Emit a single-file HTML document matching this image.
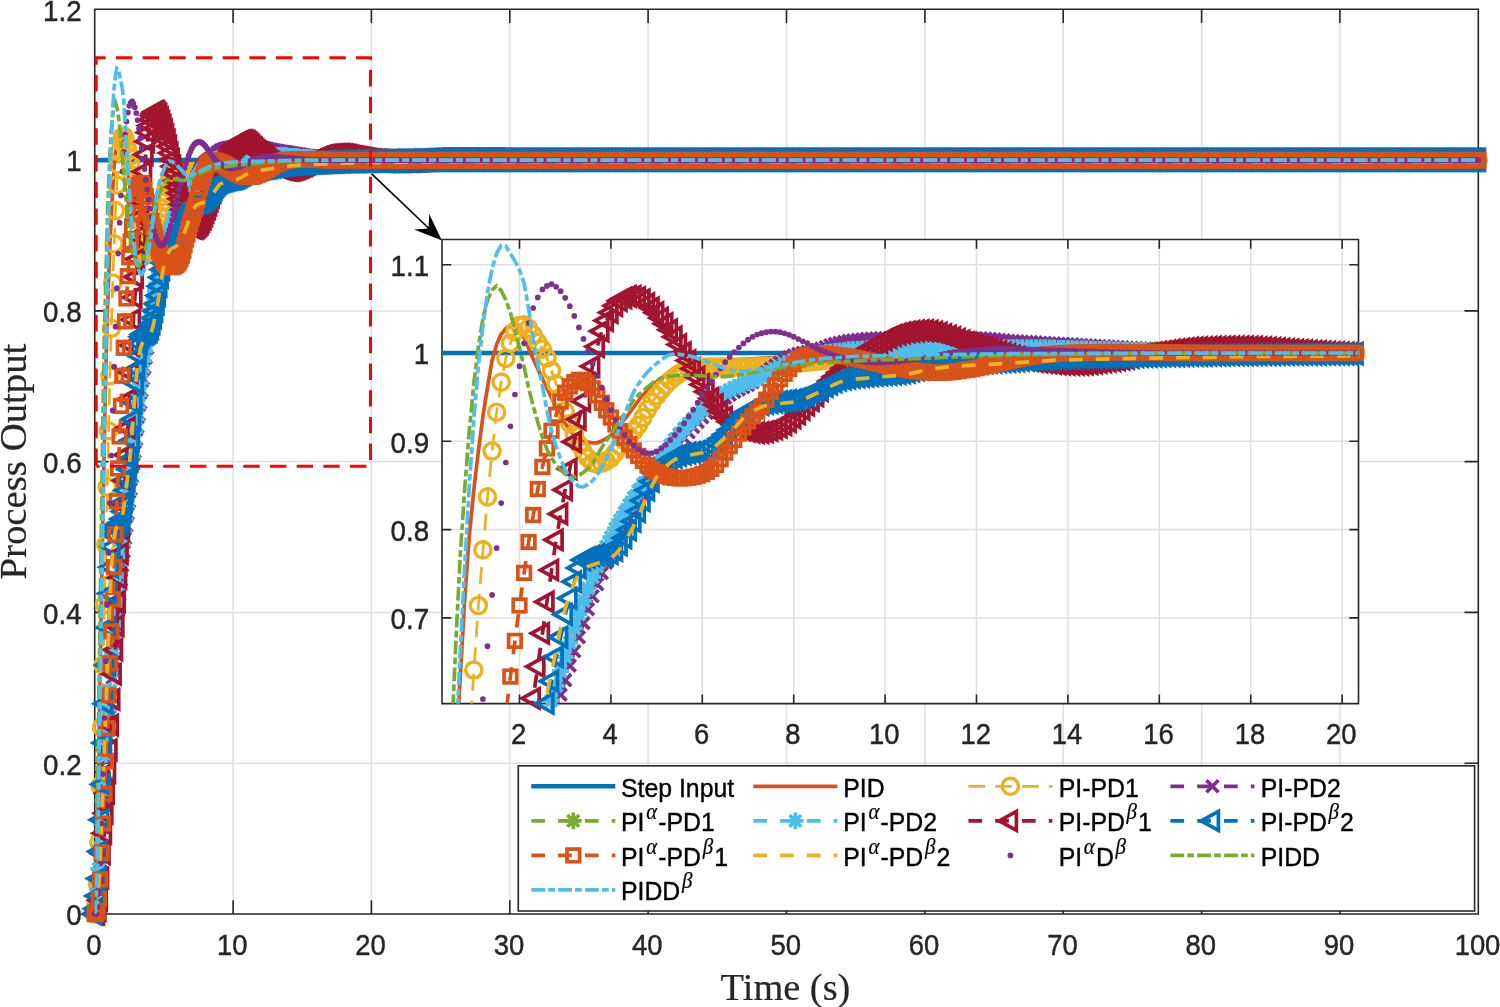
<!DOCTYPE html>
<html><head><meta charset="utf-8"><title>Process Output</title>
<style>html,body{margin:0;padding:0;background:#fff}svg{display:block}text{font-family:"Liberation Sans",sans-serif;fill:#262626;stroke:#262626;stroke-width:.45px}.se{font-family:"Liberation Serif",serif;fill:#262626;stroke-width:.2px}.lg{font-size:26.7px;fill:#000;stroke:#000;stroke-width:.4px}.sup{font-family:"Liberation Serif",serif;font-style:italic;font-size:22.5px;stroke-width:.2px}</style></head><body>
<svg width="1500" height="1007" viewBox="0 0 1500 1007">
<rect width="1500" height="1007" fill="#fff"/>
<defs>
<clipPath id="cm"><rect x="94.7" y="9.3" width="1383.6" height="904.7"/></clipPath>
<clipPath id="ci"><rect x="442.0" y="239.5" width="916.5" height="464.1"/></clipPath>
<marker id="mc" markerUnits="userSpaceOnUse" markerWidth="40" markerHeight="40" viewBox="-20 -20 40 40" refX="0" refY="0" orient="0" overflow="visible"><circle cx="0" cy="0" r="8.1" fill="none" stroke="#edb120" stroke-width="3.4" stroke-miterlimit="10"/></marker>
<marker id="md" markerUnits="userSpaceOnUse" markerWidth="40" markerHeight="40" viewBox="-20 -20 40 40" refX="0" refY="0" orient="0" overflow="visible"><path d="M-6 -6L6 6M-6 6L6 -6" fill="none" stroke="#7e2f8e" stroke-width="3.7" stroke-miterlimit="10"/></marker>
<marker id="me" markerUnits="userSpaceOnUse" markerWidth="40" markerHeight="40" viewBox="-20 -20 40 40" refX="0" refY="0" orient="0" overflow="visible"><path d="M-8.3 0H8.3M0 -8.3V8.3M-5.9 -5.9L5.9 5.9M-5.9 5.9L5.9 -5.9" fill="none" stroke="#77ac30" stroke-width="3.7" stroke-miterlimit="10"/></marker>
<marker id="mf" markerUnits="userSpaceOnUse" markerWidth="40" markerHeight="40" viewBox="-20 -20 40 40" refX="0" refY="0" orient="0" overflow="visible"><path d="M-8.3 0H8.3M0 -8.3V8.3M-5.9 -5.9L5.9 5.9M-5.9 5.9L5.9 -5.9" fill="none" stroke="#4dbeee" stroke-width="3.7" stroke-miterlimit="10"/></marker>
<marker id="mg" markerUnits="userSpaceOnUse" markerWidth="40" markerHeight="40" viewBox="-20 -20 40 40" refX="0" refY="0" orient="0" overflow="visible"><path d="M-11.1 0L6 -9.45L6 9.45Z" fill="none" stroke="#a2142f" stroke-width="3.7" stroke-miterlimit="10"/></marker>
<marker id="mh" markerUnits="userSpaceOnUse" markerWidth="40" markerHeight="40" viewBox="-20 -20 40 40" refX="0" refY="0" orient="0" overflow="visible"><path d="M-11.1 0L6 -9.45L6 9.45Z" fill="none" stroke="#0072bd" stroke-width="3.7" stroke-miterlimit="10"/></marker>
<marker id="mi" markerUnits="userSpaceOnUse" markerWidth="40" markerHeight="40" viewBox="-20 -20 40 40" refX="0" refY="0" orient="0" overflow="visible"><rect x="-6.3" y="-6.3" width="12.6" height="12.6" fill="none" stroke="#d95319" stroke-width="3.7" stroke-miterlimit="10"/></marker>
<marker id="mk" markerUnits="userSpaceOnUse" markerWidth="40" markerHeight="40" viewBox="-20 -20 40 40" refX="0" refY="0" orient="0" overflow="visible"><circle cx="0" cy="0" r="2.85" fill="#7e2f8e"/></marker>
</defs>
<path d="M233.1 9.3V914.0M371.4 9.3V914.0M509.8 9.3V914.0M648.1 9.3V914.0M786.5 9.3V914.0M924.9 9.3V914.0M1063.2 9.3V914.0M1201.6 9.3V914.0M1339.9 9.3V914.0M94.7 763.2H1478.3M94.7 612.4H1478.3M94.7 461.6H1478.3M94.7 310.9H1478.3M94.7 160.1H1478.3" stroke="#dfdfdf" stroke-width="1.5" fill="none"/>
<path d="M94.7 9.3H1478.3V914.0H94.7ZM233.1 914.0v-13.8M233.1 9.3v13.8M371.4 914.0v-13.8M371.4 9.3v13.8M509.8 914.0v-13.8M509.8 9.3v13.8M648.1 914.0v-13.8M648.1 9.3v13.8M786.5 914.0v-13.8M786.5 9.3v13.8M924.9 914.0v-13.8M924.9 9.3v13.8M1063.2 914.0v-13.8M1063.2 9.3v13.8M1201.6 914.0v-13.8M1201.6 9.3v13.8M1339.9 914.0v-13.8M1339.9 9.3v13.8M94.7 763.2h13.8M1478.3 763.2h-13.8M94.7 612.4h13.8M1478.3 612.4h-13.8M94.7 461.6h13.8M1478.3 461.6h-13.8M94.7 310.9h13.8M1478.3 310.9h-13.8M94.7 160.1h13.8M1478.3 160.1h-13.8" stroke="#262626" stroke-width="1.6" fill="none"/>
<path d="M94.7 160.1l1383.6 0" fill="none" stroke="#0072bd" stroke-width="4.6" clip-path="url(#cm)"/>
<path d="M94.7 914l1.4-22.6l1.4-60.5l5.5-323.3l2.8-137l1.4-53.4l2.7-73.5l2.8-54.5l1.4-22.7l1.4-13.6l1.3-9l1.4-4.6l1.4-2.8l1.4 0l1.4 4.2l1.4 6.3l6.9 43.2l4.1 23.9l2.8 11.6l1.4 4.6l1.4 2.9l2.7 2.9l1.4 0.8l1.4-0.1l1.4-1.5l2.7-5.1l2.8-8.7l6.9-25.5l2.8-7.9l2.8-6.6l2.7-4.8l4.2-5.1l2.7-2.5l2.8-1.5l6.9-1.3l12.5-1.9l12.4-1.8l20.8-1.6l29-0.9l1219 0" fill="none" stroke="#d95319" stroke-width="3.7" clip-path="url(#cm)"/>
<path d="M94.7 914l1.4-9.3l1.4-20.9l1.4-41.2l11-466.9l2.8-92.7l2.8-72.4l1.3-25.6l1.4-20.4l1.4-12.8l1.4-9.8l1.4-5.3l1.4-0.7l1.3 3l4.2 17.7l1.4 7.7l6.9 56l2.8 17.7l2.7 11.6l1.4 4.1l1.4 1.2l1.4-0.9l1.4-1.7l1.3-2.6l4.2-15l2.8-8.1l1.3-4.8l4.2-19.7l2.8-10.3l2.7-8.4l2.8-5.9l1.4-2.5l1.4-1.9l1.3-0.6l5.6-0.5l13.8-0.1l5.6-0.9l11-3.6l9.7-2.4l12.5-2l26.2-2.5l16.7-0.5l1202.3 0" fill="none" stroke="#edb120" stroke-width="2.7" stroke-dasharray="16.7 10.1" clip-path="url(#cm)"/>
<path d="M94.7 914l1.4-9.3l1.4-20.9l1.4-41.2l1.3-56.8l1.4-58.7l1.4-61.9l1.4-60.7l1.4-59.9l1.4-57.6l1.3-56.3l1.4-55l1.4-47.5l1.4-45.2l1.4-39.2l1.4-33.2l1.3-25.6l1.4-20.4l1.4-12.8l1.4-9.8l1.4-5.3l1.4-0.7l1.3 3l1.4 5.5l1.4 6.5l1.4 5.7l1.4 7.7l1.4 10.7l1.3 11.4l1.4 11.5l1.4 11.8l1.4 10.6l1.4 9.3l1.4 8.4l1.3 6.4l1.4 5.2l1.4 4.1l1.4 1.2l1.4-0.9l1.4-1.7l1.3-2.6l1.4-4.8l1.4-5.5l1.4-4.7l1.4-4l1.4-4.1l1.3-4.8l1.4-6.6l1.4-7l1.4-6.1l1.4-5.6l1.4-4.7l1.3-4.5l1.4-3.9l1.4-3.3l1.4-2.6l1.4-2.5l1.4-1.9l1.3-0.6l1.4-0.2l1.4-0.2l1.4 0l1.4-0.1l1.4 0l1.4 0l1.3 0l1.4 0l1.4 0l1.4 0l1.4 0l1.4 0l1.3 0l1.4-0.1l1.4-0.2l1.4-0.2l1.4-0.2l1.4-0.3l1.3-0.5l1.4-0.5l1.4-0.5l1.4-0.5l1.4-0.4l1.4-0.4l1.3-0.4l1.4-0.4l1.4-0.4l1.4-0.4l1.4-0.4l1.4-0.3l1.3-0.3l1.4-0.3l1.4-0.3l1.4-0.3l1.4-0.2l1.4-0.3l1.3-0.2l1.4-0.3l1.4-0.2l1.4-0.2l1.4-0.1l1.4-0.2l1.3-0.1l1.4-0.2l1.4-0.1l1.4-0.2l1.4-0.1l1.4-0.2l1.3-0.1l1.4-0.2l1.4-0.1l1.4-0.1l1.4-0.2l1.4-0.1l1.3-0.1l1.4-0.2l1.4-0.1l1.4-0.1l1.4-0.1l1.4-0.1l1.3-0.1l1.4-0.1l1.4 0l1.4-0.1l1.4-0.1l1.4 0l1.3-0.1l1.4 0l1.4-0.1l1.4 0l1.4 0l1.4 0l1.4 0l1.3 0l1.4 0l1.4 0l1.4 0l1.4 0l1.4 0l1.3 0l1.4 0l1.4 0l1.4 0l1.4 0l1.4 0l1.3 0l1.4 0l1.4 0l1.4 0l1.4 0l1.4 0l1.3 0l1.4 0l1.4 0l1.4 0l1.4 0l1.4 0l1.3 0l1.4 0l1.4 0l1.4 0l1.4 0l1.4 0l1.3 0l1.4 0l1.4 0l1.4 0l1.4 0l1.4 0l1.3 0l1.4 0l1.4 0l1.4 0l1.4 0l1.4 0l1.3 0l1.4 0l1.4 0l1.4 0l1.4 0l1.4 0l1.3 0l1.4 0l1.4 0l1.4 0l1.4 0l1.4 0l1.3 0l1.4 0l1.4 0l1.4 0l1.4 0l1.4 0l1.4 0l1.3 0l1.4 0l1.4 0l1.4 0l1.4 0l1.4 0l1.3 0l1.4 0l1.4 0l1.4 0l1.4 0l1.4 0l1.3 0l1.4 0l1.4 0l1.4 0l1.4 0l1.4 0l1.3 0l1.4 0l1.4 0l1.4 0l1.4 0l1.4 0l1.3 0l1.4 0l1.4 0l1.4 0l1.4 0l1.4 0l1.3 0l1.4 0l1.4 0l1.4 0l1.4 0l1.4 0l1.3 0l1.4 0l1.4 0l1.4 0l1.4 0l1.4 0l1.3 0l1.4 0l1.4 0l1.4 0l1.4 0l1.4 0l1.3 0l1.4 0l1.4 0l1.4 0l1.4 0l1.4 0l1.3 0l1.4 0l1.4 0l1.4 0l1.4 0l1.4 0l1.4 0l1.3 0l1.4 0l1.4 0l1.4 0l1.4 0l1.4 0l1.3 0l1.4 0l1.4 0l1.4 0l1.4 0l1.4 0l1.3 0l1.4 0l1.4 0l1.4 0l1.4 0l1.4 0l1.3 0l1.4 0l1.4 0l1.4 0l1.4 0l1.4 0l1.3 0l1.4 0l1.4 0l1.4 0l1.4 0l1.4 0l1.3 0l1.4 0l1.4 0l1.4 0l1.4 0l1.4 0l1.3 0l1.4 0l1.4 0l1.4 0l1.4 0l1.4 0l1.3 0l1.4 0l1.4 0l1.4 0l1.4 0l1.4 0l1.3 0l1.4 0l1.4 0l1.4 0l1.4 0l1.4 0l1.3 0l1.4 0l1.4 0l1.4 0l1.4 0l1.4 0l1.4 0l1.3 0l1.4 0l1.4 0l1.4 0l1.4 0l1.4 0l1.3 0l1.4 0l1.4 0l1.4 0l1.4 0l1.4 0l1.3 0l1.4 0l1.4 0l1.4 0l1.4 0l1.4 0l1.3 0l1.4 0l1.4 0l1.4 0l1.4 0l1.4 0l1.3 0l1.4 0l1.4 0l1.4 0l1.4 0l1.4 0l1.3 0l1.4 0l1.4 0l1.4 0l1.4 0l1.4 0l1.3 0l1.4 0l1.4 0l1.4 0l1.4 0l1.4 0l1.3 0l1.4 0l1.4 0l1.4 0l1.4 0l1.4 0l1.3 0l1.4 0l1.4 0l1.4 0l1.4 0l1.4 0l1.3 0l1.4 0l1.4 0l1.4 0l1.4 0l1.4 0l1.4 0l1.3 0l1.4 0l1.4 0l1.4 0l1.4 0l1.4 0l1.3 0l1.4 0l1.4 0l1.4 0l1.4 0l1.4 0l1.3 0l1.4 0l1.4 0l1.4 0l1.4 0l1.4 0l1.3 0l1.4 0l1.4 0l1.4 0l1.4 0l1.4 0l1.3 0l1.4 0l1.4 0l1.4 0l1.4 0l1.4 0l1.3 0l1.4 0l1.4 0l1.4 0l1.4 0l1.4 0l1.3 0l1.4 0l1.4 0l1.4 0l1.4 0l1.4 0l1.3 0l1.4 0l1.4 0l1.4 0l1.4 0l1.4 0l1.3 0l1.4 0l1.4 0l1.4 0l1.4 0l1.4 0l1.3 0l1.4 0l1.4 0l1.4 0l1.4 0l1.4 0l1.3 0l1.4 0l1.4 0l1.4 0l1.4 0l1.4 0l1.4 0l1.3 0l1.4 0l1.4 0l1.4 0l1.4 0l1.4 0l1.3 0l1.4 0l1.4 0l1.4 0l1.4 0l1.4 0l1.3 0l1.4 0l1.4 0l1.4 0l1.4 0l1.4 0l1.3 0l1.4 0l1.4 0l1.4 0l1.4 0l1.4 0l1.3 0l1.4 0l1.4 0l1.4 0l1.4 0l1.4 0l1.3 0l1.4 0l1.4 0l1.4 0l1.4 0l1.4 0l1.3 0l1.4 0l1.4 0l1.4 0l1.4 0l1.4 0l1.3 0l1.4 0l1.4 0l1.4 0l1.4 0l1.4 0l1.3 0l1.4 0l1.4 0l1.4 0l1.4 0l1.4 0l1.3 0l1.4 0l1.4 0l1.4 0l1.4 0l1.4 0l1.4 0l1.3 0l1.4 0l1.4 0l1.4 0l1.4 0l1.4 0l1.3 0l1.4 0l1.4 0l1.4 0l1.4 0l1.4 0l1.3 0l1.4 0l1.4 0l1.4 0l1.4 0l1.4 0l1.3 0l1.4 0l1.4 0l1.4 0l1.4 0l1.4 0l1.3 0l1.4 0l1.4 0l1.4 0l1.4 0l1.4 0l1.3 0l1.4 0l1.4 0l1.4 0l1.4 0l1.4 0l1.3 0l1.4 0l1.4 0l1.4 0l1.4 0l1.4 0l1.3 0l1.4 0l1.4 0l1.4 0l1.4 0l1.4 0l1.3 0l1.4 0l1.4 0l1.4 0l1.4 0l1.4 0l1.3 0l1.4 0l1.4 0l1.4 0l1.4 0l1.4 0l1.4 0l1.3 0l1.4 0l1.4 0l1.4 0l1.4 0l1.4 0l1.3 0l1.4 0l1.4 0l1.4 0l1.4 0l1.4 0l1.3 0l1.4 0l1.4 0l1.4 0l1.4 0l1.4 0l1.3 0l1.4 0l1.4 0l1.4 0l1.4 0l1.4 0l1.3 0l1.4 0l1.4 0l1.4 0l1.4 0l1.4 0l1.3 0l1.4 0l1.4 0l1.4 0l1.4 0l1.4 0l1.3 0l1.4 0l1.4 0l1.4 0l1.4 0l1.4 0l1.3 0l1.4 0l1.4 0l1.4 0l1.4 0l1.4 0l1.3 0l1.4 0l1.4 0l1.4 0l1.4 0l1.4 0l1.3 0l1.4 0l1.4 0l1.4 0l1.4 0l1.4 0l1.3 0l1.4 0l1.4 0l1.4 0l1.4 0l1.4 0l1.4 0l1.3 0l1.4 0l1.4 0l1.4 0l1.4 0l1.4 0l1.3 0l1.4 0l1.4 0l1.4 0l1.4 0l1.4 0l1.3 0l1.4 0l1.4 0l1.4 0l1.4 0l1.4 0l1.3 0l1.4 0l1.4 0l1.4 0l1.4 0l1.4 0l1.3 0l1.4 0l1.4 0l1.4 0l1.4 0l1.4 0l1.3 0l1.4 0l1.4 0l1.4 0l1.4 0l1.4 0l1.3 0l1.4 0l1.4 0l1.4 0l1.4 0l1.4 0l1.3 0l1.4 0l1.4 0l1.4 0l1.4 0l1.4 0l1.3 0l1.4 0l1.4 0l1.4 0l1.4 0l1.4 0l1.3 0l1.4 0l1.4 0l1.4 0l1.4 0l1.4 0l1.4 0l1.3 0l1.4 0l1.4 0l1.4 0l1.4 0l1.4 0l1.3 0l1.4 0l1.4 0l1.4 0l1.4 0l1.4 0l1.3 0l1.4 0l1.4 0l1.4 0l1.4 0l1.4 0l1.3 0l1.4 0l1.4 0l1.4 0l1.4 0l1.4 0l1.3 0l1.4 0l1.4 0l1.4 0l1.4 0l1.4 0l1.3 0l1.4 0l1.4 0l1.4 0l1.4 0l1.4 0l1.3 0l1.4 0l1.4 0l1.4 0l1.4 0l1.4 0l1.3 0l1.4 0l1.4 0l1.4 0l1.4 0l1.4 0l1.3 0l1.4 0l1.4 0l1.4 0l1.4 0l1.4 0l1.3 0l1.4 0l1.4 0l1.4 0l1.4 0l1.4 0l1.4 0l1.3 0l1.4 0l1.4 0l1.4 0l1.4 0l1.4 0l1.3 0l1.4 0l1.4 0l1.4 0l1.4 0l1.4 0l1.3 0l1.4 0l1.4 0l1.4 0l1.4 0l1.4 0l1.3 0l1.4 0l1.4 0l1.4 0l1.4 0l1.4 0l1.3 0l1.4 0l1.4 0l1.4 0l1.4 0l1.4 0l1.3 0l1.4 0l1.4 0l1.4 0l1.4 0l1.4 0l1.3 0l1.4 0l1.4 0l1.4 0l1.4 0l1.4 0l1.3 0l1.4 0l1.4 0l1.4 0l1.4 0l1.4 0l1.3 0l1.4 0l1.4 0l1.4 0l1.4 0l1.4 0l1.3 0l1.4 0l1.4 0l1.4 0l1.4 0l1.4 0l1.4 0l1.3 0l1.4 0l1.4 0l1.4 0l1.4 0l1.4 0l1.3 0l1.4 0l1.4 0l1.4 0l1.4 0l1.4 0l1.3 0l1.4 0l1.4 0l1.4 0l1.4 0l1.4 0l1.3 0l1.4 0l1.4 0l1.4 0l1.4 0l1.4 0l1.3 0l1.4 0l1.4 0l1.4 0l1.4 0l1.4 0l1.3 0l1.4 0l1.4 0l1.4 0l1.4 0l1.4 0l1.3 0l1.4 0l1.4 0l1.4 0l1.4 0l1.4 0l1.3 0l1.4 0l1.4 0l1.4 0l1.4 0l1.4 0l1.3 0l1.4 0l1.4 0l1.4 0l1.4 0l1.4 0l1.3 0l1.4 0l1.4 0l1.4 0l1.4 0l1.4 0l1.4 0l1.3 0l1.4 0l1.4 0l1.4 0l1.4 0l1.4 0l1.3 0l1.4 0l1.4 0l1.4 0l1.4 0l1.4 0l1.3 0l1.4 0l1.4 0l1.4 0l1.4 0l1.4 0l1.3 0l1.4 0l1.4 0l1.4 0l1.4 0l1.4 0l1.3 0l1.4 0l1.4 0l1.4 0l1.4 0l1.4 0l1.3 0l1.4 0l1.4 0l1.4 0l1.4 0l1.4 0l1.3 0l1.4 0l1.4 0l1.4 0l1.4 0l1.4 0l1.3 0l1.4 0l1.4 0l1.4 0l1.4 0l1.4 0l1.3 0l1.4 0l1.4 0l1.4 0l1.4 0l1.4 0l1.3 0l1.4 0l1.4 0l1.4 0l1.4 0l1.4 0l1.3 0l1.4 0l1.4 0l1.4 0l1.4 0l1.4 0l1.4 0l1.3 0l1.4 0l1.4 0l1.4 0l1.4 0l1.4 0l1.3 0l1.4 0l1.4 0l1.4 0l1.4 0l1.4 0l1.3 0l1.4 0l1.4 0l1.4 0l1.4 0l1.4 0l1.3 0l1.4 0l1.4 0l1.4 0l1.4 0l1.4 0l1.3 0l1.4 0l1.4 0l1.4 0l1.4 0l1.4 0l1.3 0l1.4 0l1.4 0l1.4 0l1.4 0l1.4 0l1.3 0l1.4 0l1.4 0l1.4 0l1.4 0l1.4 0l1.3 0l1.4 0l1.4 0l1.4 0l1.4 0l1.4 0l1.3 0l1.4 0l1.4 0l1.4 0l1.4 0l1.4 0l1.3 0l1.4 0l1.4 0l1.4 0" fill="none" stroke="none" marker-start="url(#mc)" marker-mid="url(#mc)" marker-end="url(#mc)"/>
<path d="M94.7 914l1.4 0l1.4-8.6l1.4-15.3l4.1-62.6l6.9-111.4l5.6-73.2l6.9-77.4l5.5-52l15.2-134.6l4.2-30.9l5.5-33.1l5.5-27.3l12.5-50.3l5.5-18.3l5.6-14.8l4.1-8.5l2.8-4.6l2.8-3.7l4.1-7.7l4.2-8.9l4.1-7.2l1.4-1.6l2.8-2.2l4.1-2.4l2.8-2.5l2.7-2.6l2.8-1.9l5.5-2.1l5.6-1l16.6-0.4l12.4 0.6l4.2 0.5l5.5 1.5l38.8 6.3l23.5 2.2l26.3 1l53.9 1.1l1065.4 0" fill="none" stroke="#7e2f8e" stroke-width="3.7" stroke-dasharray="13.7 13.1" clip-path="url(#cm)"/>
<path d="M94.7 914l1.4 0l1.4-8.6l1.4-15.3l1.3-19.4l1.4-20.8l1.4-22.4l1.4-22.7l1.4-22.5l1.4-22.8l1.3-22.3l1.4-21.1l1.4-19.7l1.4-18.6l1.4-17.8l1.4-17.1l1.3-16.5l1.4-16l1.4-15.5l1.4-14.9l1.4-14.5l1.4-13.9l1.3-13.3l1.4-12.6l1.4-12.2l1.4-12l1.4-12.4l1.4-12.5l1.3-12.5l1.4-12.4l1.4-12.3l1.4-12.4l1.4-12.2l1.4-12l1.3-12.1l1.4-11.8l1.4-11.2l1.4-10.2l1.4-9.5l1.4-8.9l1.3-8.5l1.4-8.1l1.4-7.6l1.4-7.4l1.4-6.9l1.4-6.7l1.3-6.3l1.4-6l1.4-5.8l1.4-5.5l1.4-5.6l1.4-5.5l1.3-5.6l1.4-5.6l1.4-5.4l1.4-5.3l1.4-4.9l1.4-4.7l1.3-4.4l1.4-4.3l1.4-4l1.4-3.8l1.4-3.6l1.4-3.4l1.4-3.1l1.3-2.8l1.4-2.6l1.4-2.4l1.4-2.2l1.4-1.8l1.4-1.9l1.3-2.4l1.4-2.6l1.4-2.7l1.4-3l1.4-3.1l1.4-2.8l1.3-2.6l1.4-2.4l1.4-2.2l1.4-1.6l1.4-1.2l1.4-1l1.3-0.8l1.4-0.7l1.4-0.9l1.4-1.1l1.4-1.4l1.4-1.4l1.3-1.2l1.4-1l1.4-0.9l1.4-0.6l1.4-0.6l1.4-0.4l1.3-0.5l1.4-0.3l1.4-0.3l1.4-0.2l1.4-0.2l1.4 0l1.3-0.1l1.4-0.1l1.4 0l1.4-0.1l1.4 0l1.4 0l1.3-0.1l1.4 0l1.4 0l1.4 0l1.4 0l1.4 0l1.3 0l1.4 0.1l1.4 0l1.4 0.1l1.4 0.1l1.4 0.1l1.3 0.1l1.4 0.1l1.4 0.1l1.4 0.2l1.4 0.2l1.4 0.5l1.3 0.4l1.4 0.3l1.4 0.3l1.4 0.3l1.4 0.3l1.4 0.2l1.4 0.3l1.3 0.2l1.4 0.2l1.4 0.3l1.4 0.2l1.4 0.2l1.4 0.2l1.3 0.2l1.4 0.2l1.4 0.2l1.4 0.3l1.4 0.2l1.4 0.2l1.3 0.3l1.4 0.2l1.4 0.2l1.4 0.3l1.4 0.2l1.4 0.2l1.3 0.2l1.4 0.3l1.4 0.2l1.4 0.2l1.4 0.2l1.4 0.1l1.3 0.2l1.4 0.2l1.4 0.1l1.4 0.2l1.4 0.1l1.4 0.1l1.3 0.2l1.4 0.1l1.4 0.1l1.4 0.1l1.4 0.1l1.4 0.2l1.3 0.1l1.4 0.1l1.4 0.1l1.4 0.1l1.4 0.1l1.4 0.1l1.3 0.1l1.4 0l1.4 0.1l1.4 0.1l1.4 0.1l1.4 0l1.3 0.1l1.4 0l1.4 0.1l1.4 0l1.4 0.1l1.4 0l1.3 0.1l1.4 0l1.4 0l1.4 0.1l1.4 0l1.4 0l1.4 0.1l1.3 0l1.4 0l1.4 0.1l1.4 0l1.4 0l1.4 0.1l1.3 0l1.4 0l1.4 0.1l1.4 0l1.4 0l1.4 0.1l1.3 0l1.4 0l1.4 0.1l1.4 0l1.4 0l1.4 0.1l1.3 0l1.4 0l1.4 0.1l1.4 0l1.4 0l1.4 0.1l1.3 0l1.4 0l1.4 0l1.4 0.1l1.4 0l1.4 0l1.3 0l1.4 0l1.4 0l1.4 0.1l1.4 0l1.4 0l1.3 0l1.4 0l1.4 0l1.4 0l1.4 0l1.4 0l1.3 0l1.4 0l1.4 0l1.4 0l1.4 0l1.4 0l1.3 0l1.4 0l1.4 0l1.4 0l1.4 0l1.4 0l1.3 0l1.4 0l1.4 0l1.4 0l1.4 0l1.4 0l1.4 0l1.3 0l1.4 0l1.4 0l1.4 0l1.4 0l1.4 0l1.3 0l1.4 0l1.4 0l1.4 0l1.4 0l1.4 0l1.3 0l1.4 0l1.4 0l1.4 0l1.4 0l1.4 0l1.3 0l1.4 0l1.4 0l1.4 0l1.4 0l1.4 0l1.3 0l1.4 0l1.4 0l1.4 0l1.4 0l1.4 0l1.3 0l1.4 0l1.4 0l1.4 0l1.4 0l1.4 0l1.3 0l1.4 0l1.4 0l1.4 0l1.4 0l1.4 0l1.3 0l1.4 0l1.4 0l1.4 0l1.4 0l1.4 0l1.3 0l1.4 0l1.4 0l1.4 0l1.4 0l1.4 0l1.3 0l1.4 0l1.4 0l1.4 0l1.4 0l1.4 0l1.4 0l1.3 0l1.4 0l1.4 0l1.4 0l1.4 0l1.4 0l1.3 0l1.4 0l1.4 0l1.4 0l1.4 0l1.4 0l1.3 0l1.4 0l1.4 0l1.4 0l1.4 0l1.4 0l1.3 0l1.4 0l1.4 0l1.4 0l1.4 0l1.4 0l1.3 0l1.4 0l1.4 0l1.4 0l1.4 0l1.4 0l1.3 0l1.4 0l1.4 0l1.4 0l1.4 0l1.4 0l1.3 0l1.4 0l1.4 0l1.4 0l1.4 0l1.4 0l1.3 0l1.4 0l1.4 0l1.4 0l1.4 0l1.4 0l1.3 0l1.4 0l1.4 0l1.4 0l1.4 0l1.4 0l1.3 0l1.4 0l1.4 0l1.4 0l1.4 0l1.4 0l1.4 0l1.3 0l1.4 0l1.4 0l1.4 0l1.4 0l1.4 0l1.3 0l1.4 0l1.4 0l1.4 0l1.4 0l1.4 0l1.3 0l1.4 0l1.4 0l1.4 0l1.4 0l1.4 0l1.3 0l1.4 0l1.4 0l1.4 0l1.4 0l1.4 0l1.3 0l1.4 0l1.4 0l1.4 0l1.4 0l1.4 0l1.3 0l1.4 0l1.4 0l1.4 0l1.4 0l1.4 0l1.3 0l1.4 0l1.4 0l1.4 0l1.4 0l1.4 0l1.3 0l1.4 0l1.4 0l1.4 0l1.4 0l1.4 0l1.3 0l1.4 0l1.4 0l1.4 0l1.4 0l1.4 0l1.3 0l1.4 0l1.4 0l1.4 0l1.4 0l1.4 0l1.3 0l1.4 0l1.4 0l1.4 0l1.4 0l1.4 0l1.4 0l1.3 0l1.4 0l1.4 0l1.4 0l1.4 0l1.4 0l1.3 0l1.4 0l1.4 0l1.4 0l1.4 0l1.4 0l1.3 0l1.4 0l1.4 0l1.4 0l1.4 0l1.4 0l1.3 0l1.4 0l1.4 0l1.4 0l1.4 0l1.4 0l1.3 0l1.4 0l1.4 0l1.4 0l1.4 0l1.4 0l1.3 0l1.4 0l1.4 0l1.4 0l1.4 0l1.4 0l1.3 0l1.4 0l1.4 0l1.4 0l1.4 0l1.4 0l1.3 0l1.4 0l1.4 0l1.4 0l1.4 0l1.4 0l1.3 0l1.4 0l1.4 0l1.4 0l1.4 0l1.4 0l1.3 0l1.4 0l1.4 0l1.4 0l1.4 0l1.4 0l1.4 0l1.3 0l1.4 0l1.4 0l1.4 0l1.4 0l1.4 0l1.3 0l1.4 0l1.4 0l1.4 0l1.4 0l1.4 0l1.3 0l1.4 0l1.4 0l1.4 0l1.4 0l1.4 0l1.3 0l1.4 0l1.4 0l1.4 0l1.4 0l1.4 0l1.3 0l1.4 0l1.4 0l1.4 0l1.4 0l1.4 0l1.3 0l1.4 0l1.4 0l1.4 0l1.4 0l1.4 0l1.3 0l1.4 0l1.4 0l1.4 0l1.4 0l1.4 0l1.3 0l1.4 0l1.4 0l1.4 0l1.4 0l1.4 0l1.3 0l1.4 0l1.4 0l1.4 0l1.4 0l1.4 0l1.3 0l1.4 0l1.4 0l1.4 0l1.4 0l1.4 0l1.4 0l1.3 0l1.4 0l1.4 0l1.4 0l1.4 0l1.4 0l1.3 0l1.4 0l1.4 0l1.4 0l1.4 0l1.4 0l1.3 0l1.4 0l1.4 0l1.4 0l1.4 0l1.4 0l1.3 0l1.4 0l1.4 0l1.4 0l1.4 0l1.4 0l1.3 0l1.4 0l1.4 0l1.4 0l1.4 0l1.4 0l1.3 0l1.4 0l1.4 0l1.4 0l1.4 0l1.4 0l1.3 0l1.4 0l1.4 0l1.4 0l1.4 0l1.4 0l1.3 0l1.4 0l1.4 0l1.4 0l1.4 0l1.4 0l1.3 0l1.4 0l1.4 0l1.4 0l1.4 0l1.4 0l1.3 0l1.4 0l1.4 0l1.4 0l1.4 0l1.4 0l1.3 0l1.4 0l1.4 0l1.4 0l1.4 0l1.4 0l1.4 0l1.3 0l1.4 0l1.4 0l1.4 0l1.4 0l1.4 0l1.3 0l1.4 0l1.4 0l1.4 0l1.4 0l1.4 0l1.3 0l1.4 0l1.4 0l1.4 0l1.4 0l1.4 0l1.3 0l1.4 0l1.4 0l1.4 0l1.4 0l1.4 0l1.3 0l1.4 0l1.4 0l1.4 0l1.4 0l1.4 0l1.3 0l1.4 0l1.4 0l1.4 0l1.4 0l1.4 0l1.3 0l1.4 0l1.4 0l1.4 0l1.4 0l1.4 0l1.3 0l1.4 0l1.4 0l1.4 0l1.4 0l1.4 0l1.3 0l1.4 0l1.4 0l1.4 0l1.4 0l1.4 0l1.3 0l1.4 0l1.4 0l1.4 0l1.4 0l1.4 0l1.4 0l1.3 0l1.4 0l1.4 0l1.4 0l1.4 0l1.4 0l1.3 0l1.4 0l1.4 0l1.4 0l1.4 0l1.4 0l1.3 0l1.4 0l1.4 0l1.4 0l1.4 0l1.4 0l1.3 0l1.4 0l1.4 0l1.4 0l1.4 0l1.4 0l1.3 0l1.4 0l1.4 0l1.4 0l1.4 0l1.4 0l1.3 0l1.4 0l1.4 0l1.4 0l1.4 0l1.4 0l1.3 0l1.4 0l1.4 0l1.4 0l1.4 0l1.4 0l1.3 0l1.4 0l1.4 0l1.4 0l1.4 0l1.4 0l1.3 0l1.4 0l1.4 0l1.4 0l1.4 0l1.4 0l1.3 0l1.4 0l1.4 0l1.4 0l1.4 0l1.4 0l1.4 0l1.3 0l1.4 0l1.4 0l1.4 0l1.4 0l1.4 0l1.3 0l1.4 0l1.4 0l1.4 0l1.4 0l1.4 0l1.3 0l1.4 0l1.4 0l1.4 0l1.4 0l1.4 0l1.3 0l1.4 0l1.4 0l1.4 0l1.4 0l1.4 0l1.3 0l1.4 0l1.4 0l1.4 0l1.4 0l1.4 0l1.3 0l1.4 0l1.4 0l1.4 0l1.4 0l1.4 0l1.3 0l1.4 0l1.4 0l1.4 0l1.4 0l1.4 0l1.3 0l1.4 0l1.4 0l1.4 0l1.4 0l1.4 0l1.3 0l1.4 0l1.4 0l1.4 0l1.4 0l1.4 0l1.3 0l1.4 0l1.4 0l1.4 0l1.4 0l1.4 0l1.4 0l1.3 0l1.4 0l1.4 0l1.4 0l1.4 0l1.4 0l1.3 0l1.4 0l1.4 0l1.4 0l1.4 0l1.4 0l1.3 0l1.4 0l1.4 0l1.4 0l1.4 0l1.4 0l1.3 0l1.4 0l1.4 0l1.4 0l1.4 0l1.4 0l1.3 0l1.4 0l1.4 0l1.4 0l1.4 0l1.4 0l1.3 0l1.4 0l1.4 0l1.4 0l1.4 0l1.4 0l1.3 0l1.4 0l1.4 0l1.4 0l1.4 0l1.4 0l1.3 0l1.4 0l1.4 0l1.4 0l1.4 0l1.4 0l1.3 0l1.4 0l1.4 0l1.4 0l1.4 0l1.4 0l1.3 0l1.4 0l1.4 0l1.4 0l1.4 0l1.4 0l1.4 0l1.3 0l1.4 0l1.4 0l1.4 0l1.4 0l1.4 0l1.3 0l1.4 0l1.4 0l1.4 0l1.4 0l1.4 0l1.3 0l1.4 0l1.4 0l1.4 0l1.4 0l1.4 0l1.3 0l1.4 0l1.4 0l1.4 0l1.4 0l1.4 0l1.3 0l1.4 0l1.4 0l1.4 0l1.4 0l1.4 0l1.3 0l1.4 0l1.4 0l1.4 0l1.4 0l1.4 0l1.3 0l1.4 0l1.4 0l1.4 0l1.4 0l1.4 0l1.3 0l1.4 0l1.4 0l1.4 0l1.4 0l1.4 0l1.3 0l1.4 0l1.4 0l1.4 0l1.4 0l1.4 0l1.3 0l1.4 0l1.4 0l1.4 0l1.4 0l1.4 0l1.3 0l1.4 0l1.4 0l1.4 0l1.4 0l1.4 0l1.4 0l1.3 0l1.4 0l1.4 0l1.4 0l1.4 0l1.4 0l1.3 0l1.4 0l1.4 0l1.4 0l1.4 0l1.4 0l1.3 0l1.4 0l1.4 0l1.4 0l1.4 0l1.4 0l1.3 0l1.4 0l1.4 0l1.4 0l1.4 0l1.4 0l1.3 0l1.4 0l1.4 0l1.4 0l1.4 0l1.4 0l1.3 0l1.4 0l1.4 0l1.4 0l1.4 0l1.4 0l1.3 0l1.4 0l1.4 0l1.4 0l1.4 0l1.4 0l1.3 0l1.4 0l1.4 0l1.4 0l1.4 0l1.4 0l1.3 0l1.4 0l1.4 0l1.4 0l1.4 0l1.4 0l1.3 0l1.4 0l1.4 0l1.4 0" fill="none" stroke="none" marker-start="url(#md)" marker-mid="url(#md)" marker-end="url(#md)"/>
<path d="M94.7 914l1.4-9l1.4-16.1l4.1-64.8l6.9-113.7l5.6-73.7l6.9-78.1l5.5-52.1l15.2-134.8l4.2-29.4l5.5-32.2l5.6-26.5l11-44.6l5.6-18.6l5.5-15.2l4.2-8.8l4.1-6.6l6.9-7.9l9.7-14l2.8-3l4.1-3.2l4.2-2l8.3-2.6l8.3-0.8l9.7 0.5l8.3 0.2l24.9-1.4l13.8 0.6l24.9 2l44.3 1.7l323.7 0.2l797 0" fill="none" stroke="#77ac30" stroke-width="3.7" stroke-dasharray="13.7 13.1" clip-path="url(#cm)"/>
<path d="M94.7 914l1.4-9l1.4-16.1l1.4-20.1l1.3-21.5l1.4-23.2l1.4-23.2l1.4-23.1l1.4-23.3l1.4-22.8l1.3-21.3l1.4-19.7l1.4-18.7l1.4-18l1.4-17.3l1.4-16.7l1.3-16.2l1.4-15.6l1.4-15.1l1.4-14.5l1.4-14l1.4-13.3l1.3-12.5l1.4-12.3l1.4-12.4l1.4-12.6l1.4-12.5l1.4-12.4l1.3-12.4l1.4-12.4l1.4-12.3l1.4-12.1l1.4-12.1l1.4-12.1l1.3-11.5l1.4-10.6l1.4-9.7l1.4-9.1l1.4-8.7l1.4-8.2l1.3-7.8l1.4-7.5l1.4-7.1l1.4-6.8l1.4-6.4l1.4-6.2l1.3-5.8l1.4-5.6l1.4-5.6l1.4-5.5l1.4-5.6l1.4-5.6l1.3-5.6l1.4-5.3l1.4-5l1.4-4.8l1.4-4.5l1.4-4.3l1.3-4.1l1.4-3.9l1.4-3.7l1.4-3.5l1.4-3.2l1.4-2.9l1.4-2.7l1.3-2.4l1.4-2.3l1.4-1.9l1.4-1.7l1.4-1.5l1.4-1.4l1.3-1.5l1.4-1.8l1.4-1.9l1.4-2l1.4-2l1.4-2l1.3-2l1.4-2.2l1.4-1.9l1.4-1.6l1.4-1.4l1.4-1.1l1.3-1.1l1.4-1l1.4-0.8l1.4-0.6l1.4-0.6l1.4-0.4l1.3-0.4l1.4-0.5l1.4-0.5l1.4-0.4l1.4-0.4l1.4-0.2l1.3-0.2l1.4-0.1l1.4-0.1l1.4-0.1l1.4-0.1l1.4 0l1.3 0l1.4 0.1l1.4 0.1l1.4 0.1l1.4 0.1l1.4 0.1l1.3 0.1l1.4 0.1l1.4 0l1.4 0.1l1.4 0l1.4-0.1l1.3 0l1.4-0.1l1.4-0.1l1.4-0.1l1.4-0.1l1.4-0.1l1.3-0.1l1.4-0.1l1.4-0.1l1.4-0.1l1.4-0.1l1.4-0.1l1.3-0.1l1.4 0l1.4-0.1l1.4-0.1l1.4 0l1.4 0l1.4 0l1.3 0l1.4 0l1.4 0.1l1.4 0l1.4 0.1l1.4 0.1l1.3 0.1l1.4 0.1l1.4 0.1l1.4 0.1l1.4 0.1l1.4 0.1l1.3 0.2l1.4 0.1l1.4 0.1l1.4 0.1l1.4 0.2l1.4 0.1l1.3 0.1l1.4 0.1l1.4 0.2l1.4 0.1l1.4 0.1l1.4 0.1l1.3 0.1l1.4 0l1.4 0.1l1.4 0.1l1.4 0l1.4 0.1l1.3 0.1l1.4 0l1.4 0.1l1.4 0l1.4 0.1l1.4 0.1l1.3 0l1.4 0.1l1.4 0.1l1.4 0l1.4 0.1l1.4 0l1.3 0.1l1.4 0.1l1.4 0l1.4 0.1l1.4 0l1.4 0.1l1.3 0l1.4 0.1l1.4 0l1.4 0.1l1.4 0l1.4 0l1.3 0.1l1.4 0l1.4 0.1l1.4 0l1.4 0l1.4 0.1l1.4 0l1.3 0l1.4 0l1.4 0l1.4 0.1l1.4 0l1.4 0l1.3 0l1.4 0l1.4 0l1.4 0l1.4 0l1.4 0l1.3 0l1.4 0l1.4 0l1.4 0l1.4 0l1.4 0l1.3 0l1.4 0l1.4 0l1.4 0l1.4 0l1.4 0l1.3 0l1.4 0l1.4 0l1.4 0l1.4 0l1.4 0l1.3 0l1.4 0l1.4 0l1.4 0l1.4 0l1.4 0l1.3 0l1.4 0l1.4 0l1.4 0l1.4 0l1.4 0l1.3 0l1.4 0l1.4 0l1.4 0l1.4 0l1.4 0l1.3 0l1.4 0l1.4 0l1.4 0l1.4 0l1.4 0l1.3 0l1.4 0l1.4 0l1.4 0l1.4 0l1.4 0l1.4 0l1.3 0l1.4 0l1.4 0l1.4 0l1.4 0l1.4 0l1.3 0l1.4 0l1.4 0l1.4 0l1.4 0l1.4 0l1.3 0l1.4 0l1.4 0l1.4 0l1.4 0l1.4 0l1.3 0l1.4 0l1.4 0l1.4 0l1.4 0l1.4 0l1.3 0l1.4 0l1.4 0l1.4 0l1.4 0l1.4 0l1.3 0l1.4 0l1.4 0l1.4 0l1.4 0l1.4 0l1.3 0l1.4 0l1.4 0l1.4 0l1.4 0l1.4 0l1.3 0l1.4 0l1.4 0l1.4 0l1.4 0l1.4 0l1.3 0l1.4 0l1.4 0l1.4 0l1.4 0l1.4 0l1.3 0l1.4 0l1.4 0l1.4 0l1.4 0l1.4 0l1.4 0l1.3 0l1.4 0l1.4 0l1.4 0l1.4 0l1.4 0l1.3 0l1.4 0l1.4 0l1.4 0l1.4 0l1.4 0l1.3 0l1.4 0l1.4 0l1.4 0l1.4 0l1.4 0l1.3 0l1.4 0l1.4 0l1.4 0l1.4 0l1.4 0l1.3 0l1.4 0l1.4 0l1.4 0l1.4 0l1.4 0l1.3 0l1.4 0l1.4 0l1.4 0l1.4 0l1.4 0l1.3 0l1.4 0l1.4 0l1.4 0l1.4 0l1.4 0l1.3 0l1.4 0l1.4 0l1.4 0l1.4 0l1.4 0l1.3 0l1.4 0l1.4 0l1.4 0l1.4 0l1.4 0l1.3 0l1.4 0l1.4 0l1.4 0l1.4 0l1.4 0l1.4 0l1.3 0l1.4 0l1.4 0l1.4 0l1.4 0l1.4 0l1.3 0l1.4 0l1.4 0l1.4 0l1.4 0l1.4 0l1.3 0l1.4 0l1.4 0l1.4 0l1.4 0l1.4 0l1.3 0l1.4 0l1.4 0l1.4 0l1.4 0l1.4 0l1.3 0l1.4 0l1.4 0l1.4 0l1.4 0l1.4 0l1.3 0l1.4 0l1.4 0l1.4 0l1.4 0l1.4 0l1.3 0l1.4 0l1.4 0l1.4 0l1.4 0l1.4 0l1.3 0l1.4 0l1.4 0l1.4 0l1.4 0l1.4 0l1.3 0l1.4 0l1.4 0l1.4 0l1.4 0l1.4 0l1.3 0l1.4 0l1.4 0l1.4 0l1.4 0l1.4 0l1.3 0l1.4 0l1.4 0l1.4 0l1.4 0l1.4 0l1.4 0l1.3 0l1.4 0l1.4 0l1.4 0l1.4 0l1.4 0l1.3 0l1.4 0l1.4 0l1.4 0l1.4 0l1.4 0l1.3 0l1.4 0l1.4 0l1.4 0l1.4 0l1.4 0l1.3 0l1.4 0l1.4 0l1.4 0l1.4 0l1.4 0l1.3 0l1.4 0l1.4 0l1.4 0l1.4 0l1.4 0l1.3 0l1.4 0l1.4 0l1.4 0l1.4 0l1.4 0l1.3 0l1.4 0l1.4 0l1.4 0l1.4 0l1.4 0l1.3 0l1.4 0l1.4 0l1.4 0l1.4 0l1.4 0l1.3 0l1.4 0l1.4 0l1.4 0l1.4 0l1.4 0l1.3 0l1.4 0l1.4 0l1.4 0l1.4 0l1.4 0l1.4 0l1.3 0l1.4 0l1.4 0l1.4 0l1.4 0l1.4 0l1.3 0l1.4 0l1.4 0l1.4 0l1.4 0l1.4 0l1.3 0l1.4 0l1.4 0l1.4 0l1.4 0l1.4 0l1.3 0l1.4 0l1.4 0l1.4 0l1.4 0l1.4 0l1.3 0l1.4 0l1.4 0l1.4 0l1.4 0l1.4 0l1.3 0l1.4 0l1.4 0l1.4 0l1.4 0l1.4 0l1.3 0l1.4 0l1.4 0l1.4 0l1.4 0l1.4 0l1.3 0l1.4 0l1.4 0l1.4 0l1.4 0l1.4 0l1.3 0l1.4 0l1.4 0l1.4 0l1.4 0l1.4 0l1.3 0l1.4 0l1.4 0l1.4 0l1.4 0l1.4 0l1.4 0l1.3 0l1.4 0l1.4 0l1.4 0l1.4 0l1.4 0l1.3 0l1.4 0l1.4 0l1.4 0l1.4 0l1.4 0l1.3 0l1.4 0l1.4 0l1.4 0l1.4 0l1.4 0l1.3 0l1.4 0l1.4 0l1.4 0l1.4 0l1.4 0l1.3 0l1.4 0l1.4 0l1.4 0l1.4 0l1.4 0l1.3 0l1.4 0l1.4 0l1.4 0l1.4 0l1.4 0l1.3 0l1.4 0l1.4 0l1.4 0l1.4 0l1.4 0l1.3 0l1.4 0l1.4 0l1.4 0l1.4 0l1.4 0l1.3 0l1.4 0l1.4 0l1.4 0l1.4 0l1.4 0l1.3 0l1.4 0l1.4 0l1.4 0l1.4 0l1.4 0l1.3 0l1.4 0l1.4 0l1.4 0l1.4 0l1.4 0l1.4 0l1.3 0l1.4 0l1.4 0l1.4 0l1.4 0l1.4 0l1.3 0l1.4 0l1.4 0l1.4 0l1.4 0l1.4 0l1.3 0l1.4 0l1.4 0l1.4 0l1.4 0l1.4 0l1.3 0l1.4 0l1.4 0l1.4 0l1.4 0l1.4 0l1.3 0l1.4 0l1.4 0l1.4 0l1.4 0l1.4 0l1.3 0l1.4 0l1.4 0l1.4 0l1.4 0l1.4 0l1.3 0l1.4 0l1.4 0l1.4 0l1.4 0l1.4 0l1.3 0l1.4 0l1.4 0l1.4 0l1.4 0l1.4 0l1.3 0l1.4 0l1.4 0l1.4 0l1.4 0l1.4 0l1.3 0l1.4 0l1.4 0l1.4 0l1.4 0l1.4 0l1.4 0l1.3 0l1.4 0l1.4 0l1.4 0l1.4 0l1.4 0l1.3 0l1.4 0l1.4 0l1.4 0l1.4 0l1.4 0l1.3 0l1.4 0l1.4 0l1.4 0l1.4 0l1.4 0l1.3 0l1.4 0l1.4 0l1.4 0l1.4 0l1.4 0l1.3 0l1.4 0l1.4 0l1.4 0l1.4 0l1.4 0l1.3 0l1.4 0l1.4 0l1.4 0l1.4 0l1.4 0l1.3 0l1.4 0l1.4 0l1.4 0l1.4 0l1.4 0l1.3 0l1.4 0l1.4 0l1.4 0l1.4 0l1.4 0l1.3 0l1.4 0l1.4 0l1.4 0l1.4 0l1.4 0l1.3 0l1.4 0l1.4 0l1.4 0l1.4 0l1.4 0l1.4 0l1.3 0l1.4 0l1.4 0l1.4 0l1.4 0l1.4 0l1.3 0l1.4 0l1.4 0l1.4 0l1.4 0l1.4 0l1.3 0l1.4 0l1.4 0l1.4 0l1.4 0l1.4 0l1.3 0l1.4 0l1.4 0l1.4 0l1.4 0l1.4 0l1.3 0l1.4 0l1.4 0l1.4 0l1.4 0l1.4 0l1.3 0l1.4 0l1.4 0l1.4 0l1.4 0l1.4 0l1.3 0l1.4 0l1.4 0l1.4 0l1.4 0l1.4 0l1.3 0l1.4 0l1.4 0l1.4 0l1.4 0l1.4 0l1.3 0l1.4 0l1.4 0l1.4 0l1.4 0l1.4 0l1.3 0l1.4 0l1.4 0l1.4 0l1.4 0l1.4 0l1.4 0l1.3 0l1.4 0l1.4 0l1.4 0l1.4 0l1.4 0l1.3 0l1.4 0l1.4 0l1.4 0l1.4 0l1.4 0l1.3 0l1.4 0l1.4 0l1.4 0l1.4 0l1.4 0l1.3 0l1.4 0l1.4 0l1.4 0l1.4 0l1.4 0l1.3 0l1.4 0l1.4 0l1.4 0l1.4 0l1.4 0l1.3 0l1.4 0l1.4 0l1.4 0l1.4 0l1.4 0l1.3 0l1.4 0l1.4 0l1.4 0l1.4 0l1.4 0l1.3 0l1.4 0l1.4 0l1.4 0l1.4 0l1.4 0l1.3 0l1.4 0l1.4 0l1.4 0l1.4 0l1.4 0l1.3 0l1.4 0l1.4 0l1.4 0l1.4 0l1.4 0l1.4 0l1.3 0l1.4 0l1.4 0l1.4 0l1.4 0l1.4 0l1.3 0l1.4 0l1.4 0l1.4 0l1.4 0l1.4 0l1.3 0l1.4 0l1.4 0l1.4 0l1.4 0l1.4 0l1.3 0l1.4 0l1.4 0l1.4 0l1.4 0l1.4 0l1.3 0l1.4 0l1.4 0l1.4 0l1.4 0l1.4 0l1.3 0l1.4 0l1.4 0l1.4 0l1.4 0l1.4 0l1.3 0l1.4 0l1.4 0l1.4 0l1.4 0l1.4 0l1.3 0l1.4 0l1.4 0l1.4 0l1.4 0l1.4 0l1.3 0l1.4 0l1.4 0l1.4 0l1.4 0l1.4 0l1.3 0l1.4 0l1.4 0l1.4 0l1.4 0l1.4 0l1.3 0l1.4 0l1.4 0l1.4 0l1.4 0l1.4 0l1.4 0l1.3 0l1.4 0l1.4 0l1.4 0l1.4 0l1.4 0l1.3 0l1.4 0l1.4 0l1.4 0l1.4 0l1.4 0l1.3 0l1.4 0l1.4 0l1.4 0l1.4 0l1.4 0l1.3 0l1.4 0l1.4 0l1.4 0l1.4 0l1.4 0l1.3 0l1.4 0l1.4 0l1.4 0l1.4 0l1.4 0l1.3 0l1.4 0l1.4 0l1.4 0l1.4 0l1.4 0l1.3 0l1.4 0l1.4 0l1.4 0l1.4 0l1.4 0l1.3 0l1.4 0l1.4 0l1.4 0l1.4 0l1.4 0l1.3 0l1.4 0l1.4 0l1.4 0l1.4 0l1.4 0l1.3 0l1.4 0l1.4 0l1.4 0" fill="none" stroke="none" marker-start="url(#me)" marker-mid="url(#me)" marker-end="url(#me)"/>
<path d="M94.7 914l1.4-9l1.4-16.1l4.1-64.8l6.9-113.7l5.6-73.7l6.9-78.1l5.5-52.1l15.2-134.8l4.2-29.4l5.5-32.2l5.6-26.5l11-44.6l5.6-18.6l5.5-15.2l4.2-8.8l4.1-6.6l6.9-7.9l9.7-14l2.8-3l4.1-3.2l4.2-2l8.3-2.6l8.3-0.8l9.7 0.5l8.3 0.2l24.9-1.4l13.8 0.6l24.9 2l44.3 1.7l323.7 0.2l797 0" fill="none" stroke="#4dbeee" stroke-width="3.7" stroke-dasharray="13.7 13.1" clip-path="url(#cm)"/>
<path d="M94.7 914l1.4-9l1.4-16.1l1.4-20.1l1.3-21.5l1.4-23.2l1.4-23.2l1.4-23.1l1.4-23.3l1.4-22.8l1.3-21.3l1.4-19.7l1.4-18.7l1.4-18l1.4-17.3l1.4-16.7l1.3-16.2l1.4-15.6l1.4-15.1l1.4-14.5l1.4-14l1.4-13.3l1.3-12.5l1.4-12.3l1.4-12.4l1.4-12.6l1.4-12.5l1.4-12.4l1.3-12.4l1.4-12.4l1.4-12.3l1.4-12.1l1.4-12.1l1.4-12.1l1.3-11.5l1.4-10.6l1.4-9.7l1.4-9.1l1.4-8.7l1.4-8.2l1.3-7.8l1.4-7.5l1.4-7.1l1.4-6.8l1.4-6.4l1.4-6.2l1.3-5.8l1.4-5.6l1.4-5.6l1.4-5.5l1.4-5.6l1.4-5.6l1.3-5.6l1.4-5.3l1.4-5l1.4-4.8l1.4-4.5l1.4-4.3l1.3-4.1l1.4-3.9l1.4-3.7l1.4-3.5l1.4-3.2l1.4-2.9l1.4-2.7l1.3-2.4l1.4-2.3l1.4-1.9l1.4-1.7l1.4-1.5l1.4-1.4l1.3-1.5l1.4-1.8l1.4-1.9l1.4-2l1.4-2l1.4-2l1.3-2l1.4-2.2l1.4-1.9l1.4-1.6l1.4-1.4l1.4-1.1l1.3-1.1l1.4-1l1.4-0.8l1.4-0.6l1.4-0.6l1.4-0.4l1.3-0.4l1.4-0.5l1.4-0.5l1.4-0.4l1.4-0.4l1.4-0.2l1.3-0.2l1.4-0.1l1.4-0.1l1.4-0.1l1.4-0.1l1.4 0l1.3 0l1.4 0.1l1.4 0.1l1.4 0.1l1.4 0.1l1.4 0.1l1.3 0.1l1.4 0.1l1.4 0l1.4 0.1l1.4 0l1.4-0.1l1.3 0l1.4-0.1l1.4-0.1l1.4-0.1l1.4-0.1l1.4-0.1l1.3-0.1l1.4-0.1l1.4-0.1l1.4-0.1l1.4-0.1l1.4-0.1l1.3-0.1l1.4 0l1.4-0.1l1.4-0.1l1.4 0l1.4 0l1.4 0l1.3 0l1.4 0l1.4 0.1l1.4 0l1.4 0.1l1.4 0.1l1.3 0.1l1.4 0.1l1.4 0.1l1.4 0.1l1.4 0.1l1.4 0.1l1.3 0.2l1.4 0.1l1.4 0.1l1.4 0.1l1.4 0.2l1.4 0.1l1.3 0.1l1.4 0.1l1.4 0.2l1.4 0.1l1.4 0.1l1.4 0.1l1.3 0.1l1.4 0l1.4 0.1l1.4 0.1l1.4 0l1.4 0.1l1.3 0.1l1.4 0l1.4 0.1l1.4 0l1.4 0.1l1.4 0.1l1.3 0l1.4 0.1l1.4 0.1l1.4 0l1.4 0.1l1.4 0l1.3 0.1l1.4 0.1l1.4 0l1.4 0.1l1.4 0l1.4 0.1l1.3 0l1.4 0.1l1.4 0l1.4 0.1l1.4 0l1.4 0l1.3 0.1l1.4 0l1.4 0.1l1.4 0l1.4 0l1.4 0.1l1.4 0l1.3 0l1.4 0l1.4 0l1.4 0.1l1.4 0l1.4 0l1.3 0l1.4 0l1.4 0l1.4 0l1.4 0l1.4 0l1.3 0l1.4 0l1.4 0l1.4 0l1.4 0l1.4 0l1.3 0l1.4 0l1.4 0l1.4 0l1.4 0l1.4 0l1.3 0l1.4 0l1.4 0l1.4 0l1.4 0l1.4 0l1.3 0l1.4 0l1.4 0l1.4 0l1.4 0l1.4 0l1.3 0l1.4 0l1.4 0l1.4 0l1.4 0l1.4 0l1.3 0l1.4 0l1.4 0l1.4 0l1.4 0l1.4 0l1.3 0l1.4 0l1.4 0l1.4 0l1.4 0l1.4 0l1.3 0l1.4 0l1.4 0l1.4 0l1.4 0l1.4 0l1.4 0l1.3 0l1.4 0l1.4 0l1.4 0l1.4 0l1.4 0l1.3 0l1.4 0l1.4 0l1.4 0l1.4 0l1.4 0l1.3 0l1.4 0l1.4 0l1.4 0l1.4 0l1.4 0l1.3 0l1.4 0l1.4 0l1.4 0l1.4 0l1.4 0l1.3 0l1.4 0l1.4 0l1.4 0l1.4 0l1.4 0l1.3 0l1.4 0l1.4 0l1.4 0l1.4 0l1.4 0l1.3 0l1.4 0l1.4 0l1.4 0l1.4 0l1.4 0l1.3 0l1.4 0l1.4 0l1.4 0l1.4 0l1.4 0l1.3 0l1.4 0l1.4 0l1.4 0l1.4 0l1.4 0l1.3 0l1.4 0l1.4 0l1.4 0l1.4 0l1.4 0l1.4 0l1.3 0l1.4 0l1.4 0l1.4 0l1.4 0l1.4 0l1.3 0l1.4 0l1.4 0l1.4 0l1.4 0l1.4 0l1.3 0l1.4 0l1.4 0l1.4 0l1.4 0l1.4 0l1.3 0l1.4 0l1.4 0l1.4 0l1.4 0l1.4 0l1.3 0l1.4 0l1.4 0l1.4 0l1.4 0l1.4 0l1.3 0l1.4 0l1.4 0l1.4 0l1.4 0l1.4 0l1.3 0l1.4 0l1.4 0l1.4 0l1.4 0l1.4 0l1.3 0l1.4 0l1.4 0l1.4 0l1.4 0l1.4 0l1.3 0l1.4 0l1.4 0l1.4 0l1.4 0l1.4 0l1.3 0l1.4 0l1.4 0l1.4 0l1.4 0l1.4 0l1.4 0l1.3 0l1.4 0l1.4 0l1.4 0l1.4 0l1.4 0l1.3 0l1.4 0l1.4 0l1.4 0l1.4 0l1.4 0l1.3 0l1.4 0l1.4 0l1.4 0l1.4 0l1.4 0l1.3 0l1.4 0l1.4 0l1.4 0l1.4 0l1.4 0l1.3 0l1.4 0l1.4 0l1.4 0l1.4 0l1.4 0l1.3 0l1.4 0l1.4 0l1.4 0l1.4 0l1.4 0l1.3 0l1.4 0l1.4 0l1.4 0l1.4 0l1.4 0l1.3 0l1.4 0l1.4 0l1.4 0l1.4 0l1.4 0l1.3 0l1.4 0l1.4 0l1.4 0l1.4 0l1.4 0l1.3 0l1.4 0l1.4 0l1.4 0l1.4 0l1.4 0l1.3 0l1.4 0l1.4 0l1.4 0l1.4 0l1.4 0l1.4 0l1.3 0l1.4 0l1.4 0l1.4 0l1.4 0l1.4 0l1.3 0l1.4 0l1.4 0l1.4 0l1.4 0l1.4 0l1.3 0l1.4 0l1.4 0l1.4 0l1.4 0l1.4 0l1.3 0l1.4 0l1.4 0l1.4 0l1.4 0l1.4 0l1.3 0l1.4 0l1.4 0l1.4 0l1.4 0l1.4 0l1.3 0l1.4 0l1.4 0l1.4 0l1.4 0l1.4 0l1.3 0l1.4 0l1.4 0l1.4 0l1.4 0l1.4 0l1.3 0l1.4 0l1.4 0l1.4 0l1.4 0l1.4 0l1.3 0l1.4 0l1.4 0l1.4 0l1.4 0l1.4 0l1.3 0l1.4 0l1.4 0l1.4 0l1.4 0l1.4 0l1.4 0l1.3 0l1.4 0l1.4 0l1.4 0l1.4 0l1.4 0l1.3 0l1.4 0l1.4 0l1.4 0l1.4 0l1.4 0l1.3 0l1.4 0l1.4 0l1.4 0l1.4 0l1.4 0l1.3 0l1.4 0l1.4 0l1.4 0l1.4 0l1.4 0l1.3 0l1.4 0l1.4 0l1.4 0l1.4 0l1.4 0l1.3 0l1.4 0l1.4 0l1.4 0l1.4 0l1.4 0l1.3 0l1.4 0l1.4 0l1.4 0l1.4 0l1.4 0l1.3 0l1.4 0l1.4 0l1.4 0l1.4 0l1.4 0l1.3 0l1.4 0l1.4 0l1.4 0l1.4 0l1.4 0l1.3 0l1.4 0l1.4 0l1.4 0l1.4 0l1.4 0l1.4 0l1.3 0l1.4 0l1.4 0l1.4 0l1.4 0l1.4 0l1.3 0l1.4 0l1.4 0l1.4 0l1.4 0l1.4 0l1.3 0l1.4 0l1.4 0l1.4 0l1.4 0l1.4 0l1.3 0l1.4 0l1.4 0l1.4 0l1.4 0l1.4 0l1.3 0l1.4 0l1.4 0l1.4 0l1.4 0l1.4 0l1.3 0l1.4 0l1.4 0l1.4 0l1.4 0l1.4 0l1.3 0l1.4 0l1.4 0l1.4 0l1.4 0l1.4 0l1.3 0l1.4 0l1.4 0l1.4 0l1.4 0l1.4 0l1.3 0l1.4 0l1.4 0l1.4 0l1.4 0l1.4 0l1.3 0l1.4 0l1.4 0l1.4 0l1.4 0l1.4 0l1.3 0l1.4 0l1.4 0l1.4 0l1.4 0l1.4 0l1.4 0l1.3 0l1.4 0l1.4 0l1.4 0l1.4 0l1.4 0l1.3 0l1.4 0l1.4 0l1.4 0l1.4 0l1.4 0l1.3 0l1.4 0l1.4 0l1.4 0l1.4 0l1.4 0l1.3 0l1.4 0l1.4 0l1.4 0l1.4 0l1.4 0l1.3 0l1.4 0l1.4 0l1.4 0l1.4 0l1.4 0l1.3 0l1.4 0l1.4 0l1.4 0l1.4 0l1.4 0l1.3 0l1.4 0l1.4 0l1.4 0l1.4 0l1.4 0l1.3 0l1.4 0l1.4 0l1.4 0l1.4 0l1.4 0l1.3 0l1.4 0l1.4 0l1.4 0l1.4 0l1.4 0l1.3 0l1.4 0l1.4 0l1.4 0l1.4 0l1.4 0l1.4 0l1.3 0l1.4 0l1.4 0l1.4 0l1.4 0l1.4 0l1.3 0l1.4 0l1.4 0l1.4 0l1.4 0l1.4 0l1.3 0l1.4 0l1.4 0l1.4 0l1.4 0l1.4 0l1.3 0l1.4 0l1.4 0l1.4 0l1.4 0l1.4 0l1.3 0l1.4 0l1.4 0l1.4 0l1.4 0l1.4 0l1.3 0l1.4 0l1.4 0l1.4 0l1.4 0l1.4 0l1.3 0l1.4 0l1.4 0l1.4 0l1.4 0l1.4 0l1.3 0l1.4 0l1.4 0l1.4 0l1.4 0l1.4 0l1.3 0l1.4 0l1.4 0l1.4 0l1.4 0l1.4 0l1.3 0l1.4 0l1.4 0l1.4 0l1.4 0l1.4 0l1.4 0l1.3 0l1.4 0l1.4 0l1.4 0l1.4 0l1.4 0l1.3 0l1.4 0l1.4 0l1.4 0l1.4 0l1.4 0l1.3 0l1.4 0l1.4 0l1.4 0l1.4 0l1.4 0l1.3 0l1.4 0l1.4 0l1.4 0l1.4 0l1.4 0l1.3 0l1.4 0l1.4 0l1.4 0l1.4 0l1.4 0l1.3 0l1.4 0l1.4 0l1.4 0l1.4 0l1.4 0l1.3 0l1.4 0l1.4 0l1.4 0l1.4 0l1.4 0l1.3 0l1.4 0l1.4 0l1.4 0l1.4 0l1.4 0l1.3 0l1.4 0l1.4 0l1.4 0l1.4 0l1.4 0l1.3 0l1.4 0l1.4 0l1.4 0l1.4 0l1.4 0l1.4 0l1.3 0l1.4 0l1.4 0l1.4 0l1.4 0l1.4 0l1.3 0l1.4 0l1.4 0l1.4 0l1.4 0l1.4 0l1.3 0l1.4 0l1.4 0l1.4 0l1.4 0l1.4 0l1.3 0l1.4 0l1.4 0l1.4 0l1.4 0l1.4 0l1.3 0l1.4 0l1.4 0l1.4 0l1.4 0l1.4 0l1.3 0l1.4 0l1.4 0l1.4 0l1.4 0l1.4 0l1.3 0l1.4 0l1.4 0l1.4 0l1.4 0l1.4 0l1.3 0l1.4 0l1.4 0l1.4 0l1.4 0l1.4 0l1.3 0l1.4 0l1.4 0l1.4 0l1.4 0l1.4 0l1.3 0l1.4 0l1.4 0l1.4 0l1.4 0l1.4 0l1.4 0l1.3 0l1.4 0l1.4 0l1.4 0l1.4 0l1.4 0l1.3 0l1.4 0l1.4 0l1.4 0l1.4 0l1.4 0l1.3 0l1.4 0l1.4 0l1.4 0l1.4 0l1.4 0l1.3 0l1.4 0l1.4 0l1.4 0l1.4 0l1.4 0l1.3 0l1.4 0l1.4 0l1.4 0l1.4 0l1.4 0l1.3 0l1.4 0l1.4 0l1.4 0l1.4 0l1.4 0l1.3 0l1.4 0l1.4 0l1.4 0l1.4 0l1.4 0l1.3 0l1.4 0l1.4 0l1.4 0l1.4 0l1.4 0l1.3 0l1.4 0l1.4 0l1.4 0l1.4 0l1.4 0l1.3 0l1.4 0l1.4 0l1.4 0l1.4 0l1.4 0l1.3 0l1.4 0l1.4 0l1.4 0l1.4 0l1.4 0l1.4 0l1.3 0l1.4 0l1.4 0l1.4 0l1.4 0l1.4 0l1.3 0l1.4 0l1.4 0l1.4 0l1.4 0l1.4 0l1.3 0l1.4 0l1.4 0l1.4 0l1.4 0l1.4 0l1.3 0l1.4 0l1.4 0l1.4 0l1.4 0l1.4 0l1.3 0l1.4 0l1.4 0l1.4 0l1.4 0l1.4 0l1.3 0l1.4 0l1.4 0l1.4 0l1.4 0l1.4 0l1.3 0l1.4 0l1.4 0l1.4 0l1.4 0l1.4 0l1.3 0l1.4 0l1.4 0l1.4 0l1.4 0l1.4 0l1.3 0l1.4 0l1.4 0l1.4 0l1.4 0l1.4 0l1.3 0l1.4 0l1.4 0l1.4 0" fill="none" stroke="none" marker-start="url(#mf)" marker-mid="url(#mf)" marker-end="url(#mf)"/>
<path d="M94.7 914l2.8 0l1.4-3.9l1.3-9.9l4.2-66.9l5.5-83.4l16.6-295l6.9-135.3l2.8-42.7l1.4-17.8l2.8-42.3l5.5-62.2l1.4-13.1l1.4-9.1l2.7-12.7l1.4-4.2l1.4-2.3l1.4-1.5l1.4-0.1l1.3 1.3l1.4 1.8l2.8 6.9l4.1 13.4l2.8 11.3l8.3 40.8l6.9 27.8l1.4 3.9l2.8 5.3l1.4 1.6l2.7 1.9l1.4 0.5l1.4 0.1l1.4-0.8l2.8-2.4l2.7-3.8l2.8-5.6l6.9-19l4.2-12.5l6.9-18.1l4.1-8.3l6.9-10.8l2.8-3l2.8-1.7l4.1-1.3l1.4 0.1l2.8 1.1l4.1 3.6l8.3 7.8l5.6 4.3l6.9 5.9l4.1 2.9l4.2 1.6l5.5 1.3l4.2 0.4l4.1-0.7l9.7-3.9l8.3-4.8l9.7-3.8l4.1-1l11.1-0.9l5.5 0.2l9.7 1.8l16.6 3l16.6 1.3l19.4-0.1l16.6-0.7l16.6-1l1039.1 0.2" fill="none" stroke="#a2142f" stroke-width="3.7" stroke-dasharray="13.7 13.1" clip-path="url(#cm)"/>
<path d="M94.7 914l1.4 0l1.4 0l1.4-3.9l1.3-9.9l1.4-22.3l1.4-24.2l1.4-20.4l1.4-20l1.4-20.1l1.3-20.9l1.4-22.4l1.4-24.8l1.4-25.8l1.4-25.2l1.4-24.3l1.3-24l1.4-23.9l1.4-24.1l1.4-24.2l1.4-24.2l1.4-24.3l1.3-24.7l1.4-25.5l1.4-27.1l1.4-28.4l1.4-26.9l1.4-27.1l1.3-25.8l1.4-22.2l1.4-20.5l1.4-17.8l1.4-23.2l1.4-19.1l1.3-15.5l1.4-14.9l1.4-14.9l1.4-16.9l1.4-13.1l1.4-9.1l1.3-6.8l1.4-5.9l1.4-4.2l1.4-2.3l1.4-1.5l1.4-0.1l1.3 1.3l1.4 1.8l1.4 3.1l1.4 3.8l1.4 4.1l1.4 4.5l1.3 4.8l1.4 5.3l1.4 6l1.4 6.7l1.4 6.7l1.4 6.7l1.3 7l1.4 7.2l1.4 6.5l1.4 6l1.4 5.7l1.4 5.5l1.4 5.4l1.3 5.2l1.4 3.9l1.4 2.9l1.4 2.4l1.4 1.6l1.4 1l1.3 0.9l1.4 0.5l1.4 0.1l1.4-0.8l1.4-1.1l1.4-1.3l1.3-1.7l1.4-2.1l1.4-2.5l1.4-3.1l1.4-3.6l1.4-3.7l1.3-3.7l1.4-3.9l1.4-4.1l1.4-4.3l1.4-4.3l1.4-3.9l1.3-3.8l1.4-3.6l1.4-3.7l1.4-3.6l1.4-3.4l1.4-3l1.3-2.8l1.4-2.5l1.4-2.3l1.4-2.1l1.4-2.2l1.4-2.2l1.3-2l1.4-1.6l1.4-1.4l1.4-1l1.4-0.7l1.4-0.6l1.3-0.4l1.4-0.3l1.4 0.1l1.4 0.4l1.4 0.7l1.4 1.1l1.3 1.2l1.4 1.3l1.4 1.3l1.4 1.4l1.4 1.4l1.4 1.3l1.3 1.2l1.4 1.2l1.4 1.1l1.4 1l1.4 1l1.4 1.2l1.3 1.4l1.4 1.2l1.4 1.1l1.4 1.1l1.4 1.1l1.4 1.1l1.4 0.9l1.3 0.9l1.4 0.6l1.4 0.5l1.4 0.5l1.4 0.4l1.4 0.3l1.3 0.4l1.4 0.2l1.4 0.2l1.4 0.2l1.4 0l1.4-0.1l1.3-0.3l1.4-0.3l1.4-0.5l1.4-0.5l1.4-0.5l1.4-0.6l1.3-0.6l1.4-0.5l1.4-0.7l1.4-0.7l1.4-0.8l1.4-0.9l1.3-0.8l1.4-0.8l1.4-0.8l1.4-0.6l1.4-0.5l1.4-0.6l1.3-0.6l1.4-0.5l1.4-0.5l1.4-0.5l1.4-0.4l1.4-0.4l1.3-0.2l1.4-0.2l1.4-0.1l1.4-0.1l1.4-0.1l1.4-0.2l1.3 0l1.4-0.1l1.4-0.1l1.4 0l1.4 0l1.4 0.1l1.3 0.1l1.4 0.1l1.4 0.2l1.4 0.3l1.4 0.3l1.4 0.3l1.3 0.3l1.4 0.3l1.4 0.3l1.4 0.3l1.4 0.2l1.4 0.3l1.4 0.2l1.3 0.3l1.4 0.2l1.4 0.3l1.4 0.3l1.4 0.2l1.4 0.2l1.3 0.2l1.4 0.2l1.4 0.1l1.4 0.1l1.4 0.2l1.4 0.1l1.3 0.1l1.4 0.1l1.4 0.1l1.4 0.1l1.4 0.1l1.4 0l1.3 0.1l1.4 0l1.4 0.1l1.4 0l1.4 0l1.4 0l1.3 0l1.4 0l1.4 0l1.4 0l1.4-0.1l1.4 0l1.3 0l1.4-0.1l1.4 0l1.4 0l1.4-0.1l1.4 0l1.3 0l1.4-0.1l1.4 0l1.4-0.1l1.4 0l1.4-0.1l1.3-0.1l1.4-0.1l1.4-0.1l1.4-0.1l1.4-0.1l1.4-0.1l1.3-0.1l1.4-0.1l1.4-0.1l1.4-0.1l1.4-0.1l1.4 0l1.3-0.1l1.4 0l1.4-0.1l1.4 0l1.4 0l1.4 0l1.4 0l1.3 0l1.4 0l1.4 0l1.4 0l1.4 0l1.4 0l1.3 0l1.4 0l1.4 0l1.4 0l1.4 0l1.4 0l1.3 0l1.4 0l1.4 0l1.4 0l1.4 0l1.4 0l1.3 0l1.4 0l1.4 0l1.4 0l1.4 0l1.4 0.1l1.3 0l1.4 0l1.4 0l1.4 0l1.4 0l1.4 0l1.3 0l1.4 0l1.4 0l1.4 0l1.4 0l1.4 0l1.3 0l1.4 0l1.4 0.1l1.4 0l1.4 0l1.4 0l1.3 0l1.4 0l1.4 0l1.4 0l1.4 0l1.4 0l1.3 0l1.4 0l1.4 0l1.4 0l1.4 0l1.4 0l1.3 0l1.4 0l1.4 0l1.4 0l1.4 0l1.4 0l1.4 0l1.3 0l1.4 0l1.4 0l1.4 0l1.4 0l1.4 0l1.3 0l1.4 0l1.4 0l1.4 0l1.4 0l1.4 0l1.3 0l1.4 0l1.4 0l1.4 0l1.4 0l1.4 0l1.3 0l1.4 0l1.4 0l1.4 0l1.4 0l1.4 0l1.3 0l1.4 0l1.4 0l1.4 0l1.4 0l1.4 0l1.3 0l1.4 0l1.4 0l1.4 0l1.4 0l1.4 0l1.3 0l1.4 0l1.4 0l1.4 0l1.4 0l1.4 0l1.3 0l1.4 0l1.4 0l1.4 0l1.4 0l1.4 0l1.3 0l1.4 0l1.4 0l1.4 0l1.4 0l1.4 0l1.3 0l1.4 0l1.4 0l1.4 0l1.4 0l1.4 0l1.4 0l1.3 0l1.4 0l1.4 0l1.4 0l1.4 0l1.4 0l1.3 0l1.4 0l1.4 0l1.4 0l1.4 0l1.4 0l1.3 0l1.4 0l1.4 0l1.4 0l1.4 0l1.4 0l1.3 0l1.4 0l1.4 0l1.4 0l1.4 0l1.4 0l1.3 0l1.4 0l1.4 0l1.4 0l1.4 0l1.4 0l1.3 0l1.4 0l1.4 0l1.4 0l1.4 0l1.4 0l1.3 0l1.4 0l1.4 0l1.4 0l1.4 0l1.4 0l1.3 0l1.4 0l1.4 0l1.4 0l1.4 0l1.4 0l1.3 0l1.4 0l1.4 0l1.4 0l1.4 0l1.4 0l1.3 0l1.4 0l1.4 0l1.4 0l1.4 0l1.4 0l1.3 0l1.4 0l1.4 0l1.4 0l1.4 0l1.4 0l1.4 0l1.3 0l1.4 0l1.4 0l1.4 0l1.4 0l1.4 0l1.3 0l1.4 0l1.4 0l1.4 0l1.4 0l1.4 0l1.3 0l1.4 0l1.4 0l1.4 0l1.4 0l1.4 0l1.3 0l1.4 0l1.4 0l1.4 0l1.4 0l1.4 0l1.3 0l1.4 0l1.4 0l1.4 0l1.4 0l1.4 0l1.3 0l1.4 0l1.4 0l1.4 0l1.4 0l1.4 0l1.3 0l1.4 0l1.4 0l1.4 0l1.4 0l1.4 0l1.3 0l1.4 0l1.4 0l1.4 0l1.4 0l1.4 0l1.3 0l1.4 0l1.4 0l1.4 0l1.4 0l1.4 0l1.3 0l1.4 0l1.4 0l1.4 0l1.4 0l1.4 0l1.4 0l1.3 0l1.4 0l1.4 0l1.4 0l1.4 0l1.4 0l1.3 0l1.4 0l1.4 0l1.4 0l1.4 0l1.4 0l1.3 0l1.4 0l1.4 0l1.4 0l1.4 0l1.4 0l1.3 0l1.4 0l1.4 0l1.4 0l1.4 0l1.4 0l1.3 0l1.4 0l1.4 0l1.4 0l1.4 0l1.4 0l1.3 0l1.4 0l1.4 0l1.4 0l1.4 0l1.4 0l1.3 0l1.4 0l1.4 0l1.4 0l1.4 0l1.4 0l1.3 0l1.4 0l1.4 0l1.4 0l1.4 0l1.4 0l1.3 0l1.4 0l1.4 0l1.4 0l1.4 0l1.4 0l1.3 0l1.4 0l1.4 0l1.4 0l1.4 0l1.4 0l1.4 0l1.3 0l1.4 0l1.4 0l1.4 0l1.4 0l1.4 0l1.3 0l1.4 0l1.4 0l1.4 0l1.4 0l1.4 0l1.3 0l1.4 0l1.4 0l1.4 0l1.4 0l1.4 0l1.3 0l1.4 0l1.4 0l1.4 0l1.4 0l1.4 0l1.3 0l1.4 0l1.4 0l1.4 0l1.4 0l1.4 0l1.3 0l1.4 0l1.4 0l1.4 0l1.4 0l1.4 0l1.3 0l1.4 0l1.4 0l1.4 0l1.4 0l1.4 0l1.3 0l1.4 0l1.4 0l1.4 0l1.4 0l1.4 0l1.3 0l1.4 0l1.4 0l1.4 0l1.4 0l1.4 0l1.3 0l1.4 0l1.4 0l1.4 0l1.4 0l1.4 0l1.3 0l1.4 0l1.4 0l1.4 0l1.4 0l1.4 0l1.4 0l1.3 0l1.4 0l1.4 0l1.4 0l1.4 0l1.4 0l1.3 0l1.4 0l1.4 0l1.4 0l1.4 0l1.4 0l1.3 0l1.4 0l1.4 0l1.4 0l1.4 0l1.4 0l1.3 0l1.4 0l1.4 0l1.4 0l1.4 0l1.4 0l1.3 0l1.4 0l1.4 0l1.4 0l1.4 0l1.4 0l1.3 0l1.4 0l1.4 0l1.4 0l1.4 0l1.4 0l1.3 0l1.4 0l1.4 0l1.4 0l1.4 0l1.4 0l1.3 0l1.4 0l1.4 0l1.4 0l1.4 0l1.4 0l1.3 0l1.4 0l1.4 0l1.4 0l1.4 0l1.4 0l1.3 0l1.4 0l1.4 0l1.4 0l1.4 0l1.4 0l1.4 0l1.3 0l1.4 0l1.4 0l1.4 0l1.4 0l1.4 0l1.3 0l1.4 0l1.4 0l1.4 0l1.4 0l1.4 0l1.3 0l1.4 0l1.4 0l1.4 0l1.4 0l1.4 0l1.3 0l1.4 0l1.4 0l1.4 0l1.4 0l1.4 0l1.3 0l1.4 0l1.4 0l1.4 0l1.4 0l1.4 0l1.3 0l1.4 0l1.4 0l1.4 0l1.4 0l1.4 0l1.3 0l1.4 0l1.4 0l1.4 0l1.4 0l1.4 0l1.3 0l1.4 0l1.4 0l1.4 0l1.4 0l1.4 0l1.3 0l1.4 0l1.4 0l1.4 0l1.4 0l1.4 0l1.3 0l1.4 0l1.4 0l1.4 0l1.4 0l1.4 0l1.4 0l1.3 0l1.4 0l1.4 0l1.4 0l1.4 0l1.4 0l1.3 0l1.4 0l1.4 0l1.4 0l1.4 0l1.4 0l1.3 0l1.4 0l1.4 0l1.4 0l1.4 0l1.4 0l1.3 0l1.4 0l1.4 0l1.4 0l1.4 0l1.4 0l1.3 0l1.4 0l1.4 0l1.4 0l1.4 0l1.4 0l1.3 0l1.4 0l1.4 0l1.4 0l1.4 0l1.4 0l1.3 0l1.4 0l1.4 0l1.4 0l1.4 0l1.4 0l1.3 0l1.4 0l1.4 0l1.4 0l1.4 0l1.4 0l1.3 0l1.4 0l1.4 0l1.4 0l1.4 0l1.4 0l1.3 0l1.4 0l1.4 0l1.4 0l1.4 0l1.4 0l1.4 0l1.3 0l1.4 0l1.4 0l1.4 0l1.4 0l1.4 0l1.3 0l1.4 0l1.4 0l1.4 0l1.4 0l1.4 0l1.3 0l1.4 0l1.4 0l1.4 0l1.4 0l1.4 0l1.3 0l1.4 0l1.4 0l1.4 0l1.4 0l1.4 0l1.3 0l1.4 0l1.4 0l1.4 0l1.4 0l1.4 0l1.3 0l1.4 0l1.4 0l1.4 0l1.4 0l1.4 0l1.3 0l1.4 0l1.4 0l1.4 0l1.4 0l1.4 0l1.3 0l1.4 0l1.4 0l1.4 0l1.4 0l1.4 0l1.3 0l1.4 0l1.4 0l1.4 0l1.4 0l1.4 0l1.3 0l1.4 0l1.4 0l1.4 0l1.4 0l1.4 0l1.4 0l1.3 0l1.4 0l1.4 0l1.4 0l1.4 0l1.4 0l1.3 0l1.4 0l1.4 0l1.4 0l1.4 0l1.4 0l1.3 0l1.4 0l1.4 0l1.4 0l1.4 0l1.4 0l1.3 0l1.4 0l1.4 0l1.4 0l1.4 0l1.4 0l1.3 0l1.4 0l1.4 0l1.4 0l1.4 0l1.4 0l1.3 0l1.4 0l1.4 0l1.4 0l1.4 0l1.4 0l1.3 0l1.4 0l1.4 0l1.4 0l1.4 0l1.4 0l1.3 0l1.4 0l1.4 0l1.4 0l1.4 0l1.4 0l1.3 0l1.4 0l1.4 0l1.4 0l1.4 0l1.4 0l1.3 0l1.4 0l1.4 0l1.4 0l1.4 0l1.4 0l1.3 0l1.4 0l1.4 0l1.4 0l1.4 0l1.4 0l1.4 0l1.3 0l1.4 0l1.4 0l1.4 0l1.4 0l1.4 0l1.3 0l1.4 0l1.4 0l1.4 0l1.4 0l1.4 0l1.3 0l1.4 0l1.4 0l1.4 0l1.4 0l1.4 0l1.3 0l1.4 0l1.4 0l1.4 0l1.4 0l1.4 0l1.3 0l1.4 0l1.4 0l1.4 0l1.4 0l1.4 0l1.3 0l1.4 0l1.4 0l1.4 0l1.4 0l1.4 0l1.3 0l1.4 0l1.4 0l1.4 0l1.4 0l1.4 0l1.3 0l1.4 0l1.4 0l1.4 0l1.4 0l1.4 0l1.3 0l1.4 0l1.4 0l1.4 0l1.4 0l1.4 0l1.3 0l1.4 0l1.4 0l1.4 0" fill="none" stroke="none" marker-start="url(#mg)" marker-mid="url(#mg)" marker-end="url(#mg)"/>
<path d="M94.7 914l1.4-5.3l1.4-12.8l1.4-17.3l2.7-58.8l8.3-226.2l1.4-26.4l1.4-20.4l1.4-12l1.4-6.1l1.3-3l2.8-1.5l1.4-1.9l1.4-3.4l1.4-7.5l6.9-52.2l2.7-39.8l2.8-36.2l2.8-27.9l1.4-11.7l1.3-6.8l1.4-2.1l1.4-1.3l1.4-0.7l2.8-0.5l1.3-0.9l1.4-2.7l2.8-10.6l4.1-22.5l2.8-18.2l2.8-14.3l1.4-4.8l2.7-6.7l1.4-2.4l1.4-1.6l2.8-1.8l2.7-1.3l1.4-1l1.4-1.5l1.4-2.3l4.1-9.9l5.6-16.5l2.7-5.4l2.8-3.7l1.4-1l4.1-1.5l4.2-1.4l1.4-0.9l2.7-3.1l8.3-11.5l1.4-1.5l1.4-1l4.2-1.6l8.3-2l4.1-0.9l2.8-1.3l5.5-3.3l5.5-2.5l7-1.5l13.8-2.1l12.5-2.3l20.7-1.4l40.1-1.8l94.1-1.4l1039.1 0" fill="none" stroke="#0072bd" stroke-width="3.7" stroke-dasharray="13.7 13.1" clip-path="url(#cm)"/>
<path d="M94.7 914l1.4-5.3l1.4-12.8l1.4-17.3l1.3-27.2l1.4-31.6l1.4-35.5l1.4-41.4l1.4-39.2l1.4-38.5l1.3-37.7l1.4-33.9l1.4-26.4l1.4-20.4l1.4-12l1.4-6.1l1.3-3l1.4-0.8l1.4-0.7l1.4-1.9l1.4-3.4l1.4-7.5l1.3-9.8l1.4-11.3l1.4-11.3l1.4-9.8l1.4-10l1.4-18.9l1.3-20.9l1.4-16.7l1.4-19.5l1.4-13.7l1.4-14.2l1.4-11.7l1.3-6.8l1.4-2.1l1.4-1.3l1.4-0.7l1.4-0.3l1.4-0.2l1.3-0.9l1.4-2.7l1.4-4.7l1.4-5.9l1.4-6.9l1.4-7.3l1.3-8.3l1.4-9.3l1.4-8.9l1.4-7.7l1.4-6.6l1.4-4.8l1.3-3.7l1.4-3l1.4-2.4l1.4-1.6l1.4-1.1l1.4-0.7l1.3-0.6l1.4-0.7l1.4-1l1.4-1.5l1.4-2.3l1.4-3l1.4-3.4l1.3-3.5l1.4-3.8l1.4-4.4l1.4-4.4l1.4-3.9l1.4-3l1.3-2.4l1.4-2.1l1.4-1.6l1.4-1l1.4-0.7l1.4-0.4l1.3-0.4l1.4-0.3l1.4-0.5l1.4-0.6l1.4-0.9l1.4-1.4l1.3-1.7l1.4-1.9l1.4-1.8l1.4-1.9l1.4-1.9l1.4-2.1l1.3-1.9l1.4-1.5l1.4-1l1.4-0.7l1.4-0.5l1.4-0.4l1.3-0.4l1.4-0.4l1.4-0.4l1.4-0.3l1.4-0.2l1.4-0.3l1.3-0.2l1.4-0.3l1.4-0.4l1.4-0.5l1.4-0.8l1.4-0.9l1.3-0.9l1.4-0.8l1.4-0.7l1.4-0.8l1.4-0.6l1.4-0.6l1.3-0.5l1.4-0.4l1.4-0.3l1.4-0.3l1.4-0.3l1.4-0.2l1.3-0.2l1.4-0.2l1.4-0.2l1.4-0.1l1.4-0.2l1.4-0.2l1.3-0.2l1.4-0.3l1.4-0.2l1.4-0.3l1.4-0.3l1.4-0.2l1.4-0.3l1.3-0.3l1.4-0.3l1.4-0.3l1.4-0.2l1.4-0.2l1.4-0.2l1.3-0.1l1.4-0.2l1.4-0.1l1.4-0.1l1.4-0.1l1.4-0.1l1.3-0.1l1.4-0.1l1.4-0.1l1.4 0l1.4-0.1l1.4-0.1l1.3-0.1l1.4 0l1.4-0.1l1.4-0.1l1.4-0.1l1.4 0l1.3-0.1l1.4-0.1l1.4 0l1.4-0.1l1.4-0.1l1.4-0.1l1.3 0l1.4-0.1l1.4-0.1l1.4 0l1.4-0.1l1.4-0.1l1.3 0l1.4-0.1l1.4 0l1.4-0.1l1.4-0.1l1.4 0l1.3-0.1l1.4 0l1.4-0.1l1.4 0l1.4 0l1.4-0.1l1.3 0l1.4-0.1l1.4 0l1.4 0l1.4-0.1l1.4 0l1.3 0l1.4 0l1.4-0.1l1.4 0l1.4 0l1.4 0l1.4-0.1l1.3 0l1.4 0l1.4 0l1.4-0.1l1.4 0l1.4 0l1.3 0l1.4-0.1l1.4 0l1.4 0l1.4 0l1.4 0l1.3-0.1l1.4 0l1.4 0l1.4 0l1.4 0l1.4-0.1l1.3 0l1.4 0l1.4 0l1.4-0.1l1.4 0l1.4 0l1.3 0l1.4-0.1l1.4 0l1.4 0l1.4 0l1.4-0.1l1.3 0l1.4 0l1.4 0l1.4-0.1l1.4 0l1.4 0l1.3 0l1.4-0.1l1.4 0l1.4 0l1.4 0l1.4 0l1.3-0.1l1.4 0l1.4 0l1.4 0l1.4 0l1.4 0l1.3-0.1l1.4 0l1.4 0l1.4 0l1.4 0l1.4 0l1.3 0l1.4 0l1.4 0l1.4 0l1.4 0l1.4 0l1.4 0l1.3 0l1.4 0l1.4 0l1.4 0l1.4 0l1.4 0l1.3 0l1.4 0l1.4 0l1.4 0l1.4 0l1.4 0l1.3 0l1.4 0l1.4 0l1.4 0l1.4 0l1.4 0l1.3 0l1.4 0l1.4 0l1.4 0l1.4 0l1.4 0l1.3 0l1.4 0l1.4 0l1.4 0l1.4 0l1.4 0l1.3 0l1.4 0l1.4 0l1.4 0l1.4 0l1.4 0l1.3 0l1.4 0l1.4 0l1.4 0l1.4 0l1.4 0l1.3 0l1.4 0l1.4 0l1.4 0l1.4 0l1.4 0l1.3 0l1.4 0l1.4 0l1.4 0l1.4 0l1.4 0l1.3 0l1.4 0l1.4 0l1.4 0l1.4 0l1.4 0l1.4 0l1.3 0l1.4 0l1.4 0l1.4 0l1.4 0l1.4 0l1.3 0l1.4 0l1.4 0l1.4 0l1.4 0l1.4 0l1.3 0l1.4 0l1.4 0l1.4 0l1.4 0l1.4 0l1.3 0l1.4 0l1.4 0l1.4 0l1.4 0l1.4 0l1.3 0l1.4 0l1.4 0l1.4 0l1.4 0l1.4 0l1.3 0l1.4 0l1.4 0l1.4 0l1.4 0l1.4 0l1.3 0l1.4 0l1.4 0l1.4 0l1.4 0l1.4 0l1.3 0l1.4 0l1.4 0l1.4 0l1.4 0l1.4 0l1.3 0l1.4 0l1.4 0l1.4 0l1.4 0l1.4 0l1.3 0l1.4 0l1.4 0l1.4 0l1.4 0l1.4 0l1.4 0l1.3 0l1.4 0l1.4 0l1.4 0l1.4 0l1.4 0l1.3 0l1.4 0l1.4 0l1.4 0l1.4 0l1.4 0l1.3 0l1.4 0l1.4 0l1.4 0l1.4 0l1.4 0l1.3 0l1.4 0l1.4 0l1.4 0l1.4 0l1.4 0l1.3 0l1.4 0l1.4 0l1.4 0l1.4 0l1.4 0l1.3 0l1.4 0l1.4 0l1.4 0l1.4 0l1.4 0l1.3 0l1.4 0l1.4 0l1.4 0l1.4 0l1.4 0l1.3 0l1.4 0l1.4 0l1.4 0l1.4 0l1.4 0l1.3 0l1.4 0l1.4 0l1.4 0l1.4 0l1.4 0l1.3 0l1.4 0l1.4 0l1.4 0l1.4 0l1.4 0l1.3 0l1.4 0l1.4 0l1.4 0l1.4 0l1.4 0l1.4 0l1.3 0l1.4 0l1.4 0l1.4 0l1.4 0l1.4 0l1.3 0l1.4 0l1.4 0l1.4 0l1.4 0l1.4 0l1.3 0l1.4 0l1.4 0l1.4 0l1.4 0l1.4 0l1.3 0l1.4 0l1.4 0l1.4 0l1.4 0l1.4 0l1.3 0l1.4 0l1.4 0l1.4 0l1.4 0l1.4 0l1.3 0l1.4 0l1.4 0l1.4 0l1.4 0l1.4 0l1.3 0l1.4 0l1.4 0l1.4 0l1.4 0l1.4 0l1.3 0l1.4 0l1.4 0l1.4 0l1.4 0l1.4 0l1.3 0l1.4 0l1.4 0l1.4 0l1.4 0l1.4 0l1.3 0l1.4 0l1.4 0l1.4 0l1.4 0l1.4 0l1.4 0l1.3 0l1.4 0l1.4 0l1.4 0l1.4 0l1.4 0l1.3 0l1.4 0l1.4 0l1.4 0l1.4 0l1.4 0l1.3 0l1.4 0l1.4 0l1.4 0l1.4 0l1.4 0l1.3 0l1.4 0l1.4 0l1.4 0l1.4 0l1.4 0l1.3 0l1.4 0l1.4 0l1.4 0l1.4 0l1.4 0l1.3 0l1.4 0l1.4 0l1.4 0l1.4 0l1.4 0l1.3 0l1.4 0l1.4 0l1.4 0l1.4 0l1.4 0l1.3 0l1.4 0l1.4 0l1.4 0l1.4 0l1.4 0l1.3 0l1.4 0l1.4 0l1.4 0l1.4 0l1.4 0l1.3 0l1.4 0l1.4 0l1.4 0l1.4 0l1.4 0l1.4 0l1.3 0l1.4 0l1.4 0l1.4 0l1.4 0l1.4 0l1.3 0l1.4 0l1.4 0l1.4 0l1.4 0l1.4 0l1.3 0l1.4 0l1.4 0l1.4 0l1.4 0l1.4 0l1.3 0l1.4 0l1.4 0l1.4 0l1.4 0l1.4 0l1.3 0l1.4 0l1.4 0l1.4 0l1.4 0l1.4 0l1.3 0l1.4 0l1.4 0l1.4 0l1.4 0l1.4 0l1.3 0l1.4 0l1.4 0l1.4 0l1.4 0l1.4 0l1.3 0l1.4 0l1.4 0l1.4 0l1.4 0l1.4 0l1.3 0l1.4 0l1.4 0l1.4 0l1.4 0l1.4 0l1.3 0l1.4 0l1.4 0l1.4 0l1.4 0l1.4 0l1.3 0l1.4 0l1.4 0l1.4 0l1.4 0l1.4 0l1.4 0l1.3 0l1.4 0l1.4 0l1.4 0l1.4 0l1.4 0l1.3 0l1.4 0l1.4 0l1.4 0l1.4 0l1.4 0l1.3 0l1.4 0l1.4 0l1.4 0l1.4 0l1.4 0l1.3 0l1.4 0l1.4 0l1.4 0l1.4 0l1.4 0l1.3 0l1.4 0l1.4 0l1.4 0l1.4 0l1.4 0l1.3 0l1.4 0l1.4 0l1.4 0l1.4 0l1.4 0l1.3 0l1.4 0l1.4 0l1.4 0l1.4 0l1.4 0l1.3 0l1.4 0l1.4 0l1.4 0l1.4 0l1.4 0l1.3 0l1.4 0l1.4 0l1.4 0l1.4 0l1.4 0l1.3 0l1.4 0l1.4 0l1.4 0l1.4 0l1.4 0l1.4 0l1.3 0l1.4 0l1.4 0l1.4 0l1.4 0l1.4 0l1.3 0l1.4 0l1.4 0l1.4 0l1.4 0l1.4 0l1.3 0l1.4 0l1.4 0l1.4 0l1.4 0l1.4 0l1.3 0l1.4 0l1.4 0l1.4 0l1.4 0l1.4 0l1.3 0l1.4 0l1.4 0l1.4 0l1.4 0l1.4 0l1.3 0l1.4 0l1.4 0l1.4 0l1.4 0l1.4 0l1.3 0l1.4 0l1.4 0l1.4 0l1.4 0l1.4 0l1.3 0l1.4 0l1.4 0l1.4 0l1.4 0l1.4 0l1.3 0l1.4 0l1.4 0l1.4 0l1.4 0l1.4 0l1.3 0l1.4 0l1.4 0l1.4 0l1.4 0l1.4 0l1.4 0l1.3 0l1.4 0l1.4 0l1.4 0l1.4 0l1.4 0l1.3 0l1.4 0l1.4 0l1.4 0l1.4 0l1.4 0l1.3 0l1.4 0l1.4 0l1.4 0l1.4 0l1.4 0l1.3 0l1.4 0l1.4 0l1.4 0l1.4 0l1.4 0l1.3 0l1.4 0l1.4 0l1.4 0l1.4 0l1.4 0l1.3 0l1.4 0l1.4 0l1.4 0l1.4 0l1.4 0l1.3 0l1.4 0l1.4 0l1.4 0l1.4 0l1.4 0l1.3 0l1.4 0l1.4 0l1.4 0l1.4 0l1.4 0l1.3 0l1.4 0l1.4 0l1.4 0l1.4 0l1.4 0l1.3 0l1.4 0l1.4 0l1.4 0l1.4 0l1.4 0l1.4 0l1.3 0l1.4 0l1.4 0l1.4 0l1.4 0l1.4 0l1.3 0l1.4 0l1.4 0l1.4 0l1.4 0l1.4 0l1.3 0l1.4 0l1.4 0l1.4 0l1.4 0l1.4 0l1.3 0l1.4 0l1.4 0l1.4 0l1.4 0l1.4 0l1.3 0l1.4 0l1.4 0l1.4 0l1.4 0l1.4 0l1.3 0l1.4 0l1.4 0l1.4 0l1.4 0l1.4 0l1.3 0l1.4 0l1.4 0l1.4 0l1.4 0l1.4 0l1.3 0l1.4 0l1.4 0l1.4 0l1.4 0l1.4 0l1.3 0l1.4 0l1.4 0l1.4 0l1.4 0l1.4 0l1.3 0l1.4 0l1.4 0l1.4 0l1.4 0l1.4 0l1.4 0l1.3 0l1.4 0l1.4 0l1.4 0l1.4 0l1.4 0l1.3 0l1.4 0l1.4 0l1.4 0l1.4 0l1.4 0l1.3 0l1.4 0l1.4 0l1.4 0l1.4 0l1.4 0l1.3 0l1.4 0l1.4 0l1.4 0l1.4 0l1.4 0l1.3 0l1.4 0l1.4 0l1.4 0l1.4 0l1.4 0l1.3 0l1.4 0l1.4 0l1.4 0l1.4 0l1.4 0l1.3 0l1.4 0l1.4 0l1.4 0l1.4 0l1.4 0l1.3 0l1.4 0l1.4 0l1.4 0l1.4 0l1.4 0l1.3 0l1.4 0l1.4 0l1.4 0l1.4 0l1.4 0l1.3 0l1.4 0l1.4 0l1.4 0l1.4 0l1.4 0l1.3 0l1.4 0l1.4 0l1.4 0l1.4 0l1.4 0l1.4 0l1.3 0l1.4 0l1.4 0l1.4 0l1.4 0l1.4 0l1.3 0l1.4 0l1.4 0l1.4 0l1.4 0l1.4 0l1.3 0l1.4 0l1.4 0l1.4 0l1.4 0l1.4 0l1.3 0l1.4 0l1.4 0l1.4 0l1.4 0l1.4 0l1.3 0l1.4 0l1.4 0l1.4 0l1.4 0l1.4 0l1.3 0l1.4 0l1.4 0l1.4 0l1.4 0l1.4 0l1.3 0l1.4 0l1.4 0l1.4 0l1.4 0l1.4 0l1.3 0l1.4 0l1.4 0l1.4 0l1.4 0l1.4 0l1.3 0l1.4 0l1.4 0l1.4 0l1.4 0l1.4 0l1.3 0l1.4 0l1.4 0l1.4 0" fill="none" stroke="none" marker-start="url(#mh)" marker-mid="url(#mh)" marker-end="url(#mh)"/>
<path d="M94.7 914l1.4 0l1.4-2.4l1.4-12.7l1.3-19.4l5.6-118l15.2-355.6l4.1-84.5l2.8-45.2l2.8-34.7l2.7-28.6l1.4-11.4l1.4-7.5l1.4-5.4l1.4-3.6l1.4-2l1.3 0.2l1.4 2.5l1.4 4.6l8.3 36.5l5.5 21.3l4.2 11.2l1.4 2.6l2.7 2.9l2.8 2l1.4 0.3l1.4-0.1l2.7-1.2l1.4-0.9l1.4-1.4l2.8-4.6l1.4-3.3l9.7-37.1l4.1-12.7l4.2-18.2l4.1-13.9l2.8-8.3l1.4-2.3l2.7-1.8l1.4-0.5l2.8 0.1l5.5 1.8l4.2 2.2l12.4 8.1l4.2 2.2l4.1 1.2l4.2 0.5l2.7-0.4l6.9-2.7l16.7-10.1l6.9-2.5l5.5-1.1l12.5-0.8l33.2 0.8l1144.2 0" fill="none" stroke="#d95319" stroke-width="3.7" stroke-dasharray="13.7 13.1" clip-path="url(#cm)"/>
<path d="M94.7 914l1.4 0l1.4-2.4l1.4-12.7l1.3-19.4l1.4-27l1.4-29l1.4-29.7l1.4-32.3l1.4-33.3l1.3-32.8l1.4-32l1.4-32l1.4-32l1.4-32.2l1.4-32.8l1.3-33.1l1.4-32.9l1.4-32l1.4-30.5l1.4-30.2l1.4-27.9l1.3-26.4l1.4-23l1.4-22.2l1.4-18.9l1.4-15.8l1.4-15.1l1.3-13.5l1.4-11.4l1.4-7.5l1.4-5.4l1.4-3.6l1.4-2l1.3 0.2l1.4 2.5l1.4 4.6l1.4 6l1.4 6.3l1.4 6.4l1.3 6.1l1.4 6l1.4 5.7l1.4 5.6l1.4 5.5l1.4 5.3l1.3 4.9l1.4 4l1.4 3.8l1.4 3.4l1.4 2.6l1.4 1.6l1.3 1.3l1.4 1.2l1.4 0.8l1.4 0.3l1.4-0.1l1.4-0.5l1.3-0.7l1.4-0.9l1.4-1.4l1.4-2l1.4-2.6l1.4-3.3l1.4-4.8l1.3-5.7l1.4-5.6l1.4-5.2l1.4-5.5l1.4-5.3l1.4-5l1.3-4.3l1.4-4l1.4-4.4l1.4-5.8l1.4-6.8l1.4-5.6l1.3-5.1l1.4-4.6l1.4-4.2l1.4-4.3l1.4-4l1.4-2.3l1.3-1l1.4-0.8l1.4-0.5l1.4-0.1l1.4 0.2l1.4 0.3l1.3 0.5l1.4 0.5l1.4 0.5l1.4 0.6l1.4 0.8l1.4 0.8l1.3 0.8l1.4 0.9l1.4 0.9l1.4 0.9l1.4 1l1.4 1l1.3 0.9l1.4 0.8l1.4 0.9l1.4 0.8l1.4 0.7l1.4 0.7l1.3 0.5l1.4 0.4l1.4 0.3l1.4 0.2l1.4 0.2l1.4 0.1l1.3-0.1l1.4-0.3l1.4-0.4l1.4-0.6l1.4-0.5l1.4-0.6l1.3-0.6l1.4-0.8l1.4-0.8l1.4-0.9l1.4-0.9l1.4-0.9l1.3-0.8l1.4-0.9l1.4-0.8l1.4-0.9l1.4-0.9l1.4-0.8l1.4-0.7l1.3-0.6l1.4-0.5l1.4-0.5l1.4-0.5l1.4-0.4l1.4-0.4l1.3-0.3l1.4-0.2l1.4-0.2l1.4-0.1l1.4-0.2l1.4-0.1l1.3-0.1l1.4-0.1l1.4 0l1.4-0.1l1.4 0l1.4-0.1l1.3 0l1.4 0l1.4 0.1l1.4 0l1.4 0l1.4 0l1.3 0.1l1.4 0l1.4 0.1l1.4 0.1l1.4 0l1.4 0.1l1.3 0l1.4 0.1l1.4 0l1.4 0.1l1.4 0l1.4 0l1.3 0.1l1.4 0l1.4 0l1.4 0l1.4 0l1.4 0l1.3 0l1.4 0l1.4 0l1.4 0l1.4 0l1.4 0l1.3 0l1.4 0l1.4 0l1.4 0l1.4 0l1.4 0l1.3 0l1.4 0l1.4 0l1.4 0l1.4 0l1.4 0l1.4 0l1.3 0l1.4 0l1.4 0l1.4 0l1.4 0l1.4 0l1.3 0l1.4 0l1.4 0l1.4 0l1.4 0l1.4 0l1.3 0l1.4 0l1.4 0l1.4 0l1.4 0l1.4 0l1.3 0l1.4 0l1.4 0l1.4 0l1.4 0l1.4 0l1.3 0l1.4 0l1.4 0l1.4 0l1.4 0l1.4 0l1.3 0l1.4 0l1.4 0l1.4 0l1.4 0l1.4 0l1.3 0l1.4 0l1.4 0l1.4 0l1.4 0l1.4 0l1.3 0l1.4 0l1.4 0l1.4 0l1.4 0l1.4 0l1.3 0l1.4 0l1.4 0l1.4 0l1.4 0l1.4 0l1.3 0l1.4 0l1.4 0l1.4 0l1.4 0l1.4 0l1.4 0l1.3 0l1.4 0l1.4 0l1.4 0l1.4 0l1.4 0l1.3 0l1.4 0l1.4 0l1.4 0l1.4 0l1.4 0l1.3 0l1.4 0l1.4 0l1.4 0l1.4 0l1.4 0l1.3 0l1.4 0l1.4 0l1.4 0l1.4 0l1.4 0l1.3 0l1.4 0l1.4 0l1.4 0l1.4 0l1.4 0l1.3 0l1.4 0l1.4 0l1.4 0l1.4 0l1.4 0l1.3 0l1.4 0l1.4 0l1.4 0l1.4 0l1.4 0l1.3 0l1.4 0l1.4 0l1.4 0l1.4 0l1.4 0l1.3 0l1.4 0l1.4 0l1.4 0l1.4 0l1.4 0l1.3 0l1.4 0l1.4 0l1.4 0l1.4 0l1.4 0l1.4 0l1.3 0l1.4 0l1.4 0l1.4 0l1.4 0l1.4 0l1.3 0l1.4 0l1.4 0l1.4 0l1.4 0l1.4 0l1.3 0l1.4 0l1.4 0l1.4 0l1.4 0l1.4 0l1.3 0l1.4 0l1.4 0l1.4 0l1.4 0l1.4 0l1.3 0l1.4 0l1.4 0l1.4 0l1.4 0l1.4 0l1.3 0l1.4 0l1.4 0l1.4 0l1.4 0l1.4 0l1.3 0l1.4 0l1.4 0l1.4 0l1.4 0l1.4 0l1.3 0l1.4 0l1.4 0l1.4 0l1.4 0l1.4 0l1.3 0l1.4 0l1.4 0l1.4 0l1.4 0l1.4 0l1.3 0l1.4 0l1.4 0l1.4 0l1.4 0l1.4 0l1.4 0l1.3 0l1.4 0l1.4 0l1.4 0l1.4 0l1.4 0l1.3 0l1.4 0l1.4 0l1.4 0l1.4 0l1.4 0l1.3 0l1.4 0l1.4 0l1.4 0l1.4 0l1.4 0l1.3 0l1.4 0l1.4 0l1.4 0l1.4 0l1.4 0l1.3 0l1.4 0l1.4 0l1.4 0l1.4 0l1.4 0l1.3 0l1.4 0l1.4 0l1.4 0l1.4 0l1.4 0l1.3 0l1.4 0l1.4 0l1.4 0l1.4 0l1.4 0l1.3 0l1.4 0l1.4 0l1.4 0l1.4 0l1.4 0l1.3 0l1.4 0l1.4 0l1.4 0l1.4 0l1.4 0l1.3 0l1.4 0l1.4 0l1.4 0l1.4 0l1.4 0l1.3 0l1.4 0l1.4 0l1.4 0l1.4 0l1.4 0l1.4 0l1.3 0l1.4 0l1.4 0l1.4 0l1.4 0l1.4 0l1.3 0l1.4 0l1.4 0l1.4 0l1.4 0l1.4 0l1.3 0l1.4 0l1.4 0l1.4 0l1.4 0l1.4 0l1.3 0l1.4 0l1.4 0l1.4 0l1.4 0l1.4 0l1.3 0l1.4 0l1.4 0l1.4 0l1.4 0l1.4 0l1.3 0l1.4 0l1.4 0l1.4 0l1.4 0l1.4 0l1.3 0l1.4 0l1.4 0l1.4 0l1.4 0l1.4 0l1.3 0l1.4 0l1.4 0l1.4 0l1.4 0l1.4 0l1.3 0l1.4 0l1.4 0l1.4 0l1.4 0l1.4 0l1.3 0l1.4 0l1.4 0l1.4 0l1.4 0l1.4 0l1.4 0l1.3 0l1.4 0l1.4 0l1.4 0l1.4 0l1.4 0l1.3 0l1.4 0l1.4 0l1.4 0l1.4 0l1.4 0l1.3 0l1.4 0l1.4 0l1.4 0l1.4 0l1.4 0l1.3 0l1.4 0l1.4 0l1.4 0l1.4 0l1.4 0l1.3 0l1.4 0l1.4 0l1.4 0l1.4 0l1.4 0l1.3 0l1.4 0l1.4 0l1.4 0l1.4 0l1.4 0l1.3 0l1.4 0l1.4 0l1.4 0l1.4 0l1.4 0l1.3 0l1.4 0l1.4 0l1.4 0l1.4 0l1.4 0l1.3 0l1.4 0l1.4 0l1.4 0l1.4 0l1.4 0l1.3 0l1.4 0l1.4 0l1.4 0l1.4 0l1.4 0l1.4 0l1.3 0l1.4 0l1.4 0l1.4 0l1.4 0l1.4 0l1.3 0l1.4 0l1.4 0l1.4 0l1.4 0l1.4 0l1.3 0l1.4 0l1.4 0l1.4 0l1.4 0l1.4 0l1.3 0l1.4 0l1.4 0l1.4 0l1.4 0l1.4 0l1.3 0l1.4 0l1.4 0l1.4 0l1.4 0l1.4 0l1.3 0l1.4 0l1.4 0l1.4 0l1.4 0l1.4 0l1.3 0l1.4 0l1.4 0l1.4 0l1.4 0l1.4 0l1.3 0l1.4 0l1.4 0l1.4 0l1.4 0l1.4 0l1.3 0l1.4 0l1.4 0l1.4 0l1.4 0l1.4 0l1.3 0l1.4 0l1.4 0l1.4 0l1.4 0l1.4 0l1.3 0l1.4 0l1.4 0l1.4 0l1.4 0l1.4 0l1.4 0l1.3 0l1.4 0l1.4 0l1.4 0l1.4 0l1.4 0l1.3 0l1.4 0l1.4 0l1.4 0l1.4 0l1.4 0l1.3 0l1.4 0l1.4 0l1.4 0l1.4 0l1.4 0l1.3 0l1.4 0l1.4 0l1.4 0l1.4 0l1.4 0l1.3 0l1.4 0l1.4 0l1.4 0l1.4 0l1.4 0l1.3 0l1.4 0l1.4 0l1.4 0l1.4 0l1.4 0l1.3 0l1.4 0l1.4 0l1.4 0l1.4 0l1.4 0l1.3 0l1.4 0l1.4 0l1.4 0l1.4 0l1.4 0l1.3 0l1.4 0l1.4 0l1.4 0l1.4 0l1.4 0l1.3 0l1.4 0l1.4 0l1.4 0l1.4 0l1.4 0l1.4 0l1.3 0l1.4 0l1.4 0l1.4 0l1.4 0l1.4 0l1.3 0l1.4 0l1.4 0l1.4 0l1.4 0l1.4 0l1.3 0l1.4 0l1.4 0l1.4 0l1.4 0l1.4 0l1.3 0l1.4 0l1.4 0l1.4 0l1.4 0l1.4 0l1.3 0l1.4 0l1.4 0l1.4 0l1.4 0l1.4 0l1.3 0l1.4 0l1.4 0l1.4 0l1.4 0l1.4 0l1.3 0l1.4 0l1.4 0l1.4 0l1.4 0l1.4 0l1.3 0l1.4 0l1.4 0l1.4 0l1.4 0l1.4 0l1.3 0l1.4 0l1.4 0l1.4 0l1.4 0l1.4 0l1.3 0l1.4 0l1.4 0l1.4 0l1.4 0l1.4 0l1.4 0l1.3 0l1.4 0l1.4 0l1.4 0l1.4 0l1.4 0l1.3 0l1.4 0l1.4 0l1.4 0l1.4 0l1.4 0l1.3 0l1.4 0l1.4 0l1.4 0l1.4 0l1.4 0l1.3 0l1.4 0l1.4 0l1.4 0l1.4 0l1.4 0l1.3 0l1.4 0l1.4 0l1.4 0l1.4 0l1.4 0l1.3 0l1.4 0l1.4 0l1.4 0l1.4 0l1.4 0l1.3 0l1.4 0l1.4 0l1.4 0l1.4 0l1.4 0l1.3 0l1.4 0l1.4 0l1.4 0l1.4 0l1.4 0l1.3 0l1.4 0l1.4 0l1.4 0l1.4 0l1.4 0l1.3 0l1.4 0l1.4 0l1.4 0l1.4 0l1.4 0l1.4 0l1.3 0l1.4 0l1.4 0l1.4 0l1.4 0l1.4 0l1.3 0l1.4 0l1.4 0l1.4 0l1.4 0l1.4 0l1.3 0l1.4 0l1.4 0l1.4 0l1.4 0l1.4 0l1.3 0l1.4 0l1.4 0l1.4 0l1.4 0l1.4 0l1.3 0l1.4 0l1.4 0l1.4 0l1.4 0l1.4 0l1.3 0l1.4 0l1.4 0l1.4 0l1.4 0l1.4 0l1.3 0l1.4 0l1.4 0l1.4 0l1.4 0l1.4 0l1.3 0l1.4 0l1.4 0l1.4 0l1.4 0l1.4 0l1.3 0l1.4 0l1.4 0l1.4 0l1.4 0l1.4 0l1.3 0l1.4 0l1.4 0l1.4 0l1.4 0l1.4 0l1.4 0l1.3 0l1.4 0l1.4 0l1.4 0l1.4 0l1.4 0l1.3 0l1.4 0l1.4 0l1.4 0l1.4 0l1.4 0l1.3 0l1.4 0l1.4 0l1.4 0l1.4 0l1.4 0l1.3 0l1.4 0l1.4 0l1.4 0l1.4 0l1.4 0l1.3 0l1.4 0l1.4 0l1.4 0l1.4 0l1.4 0l1.3 0l1.4 0l1.4 0l1.4 0l1.4 0l1.4 0l1.3 0l1.4 0l1.4 0l1.4 0l1.4 0l1.4 0l1.3 0l1.4 0l1.4 0l1.4 0l1.4 0l1.4 0l1.3 0l1.4 0l1.4 0l1.4 0l1.4 0l1.4 0l1.3 0l1.4 0l1.4 0l1.4 0l1.4 0l1.4 0l1.3 0l1.4 0l1.4 0l1.4 0l1.4 0l1.4 0l1.4 0l1.3 0l1.4 0l1.4 0l1.4 0l1.4 0l1.4 0l1.3 0l1.4 0l1.4 0l1.4 0l1.4 0l1.4 0l1.3 0l1.4 0l1.4 0l1.4 0l1.4 0l1.4 0l1.3 0l1.4 0l1.4 0l1.4 0l1.4 0l1.4 0l1.3 0l1.4 0l1.4 0l1.4 0l1.4 0l1.4 0l1.3 0l1.4 0l1.4 0l1.4 0l1.4 0l1.4 0l1.3 0l1.4 0l1.4 0l1.4 0l1.4 0l1.4 0l1.3 0l1.4 0l1.4 0l1.4 0l1.4 0l1.4 0l1.3 0l1.4 0l1.4 0l1.4 0l1.4 0l1.4 0l1.3 0l1.4 0l1.4 0l1.4 0" fill="none" stroke="none" marker-start="url(#mi)" marker-mid="url(#mi)" marker-end="url(#mi)"/>
<path d="M94.7 914l1.4-3.8l1.4-11.3l1.4-17.3l2.7-58.1l8.3-226.1l1.4-27.2l1.4-20.3l1.4-12.9l1.4-6.7l1.3-3.1l2.8-2.2l1.4-2.8l1.4-4.8l2.7-19.6l2.8-24.1l1.4-10.1l1.4-13l5.5-71.9l1.4-13.3l1.4-9.2l1.4-7.3l1.3-4.4l1.4-2.1l4.2-4l1.4-1.1l1.3-2l1.4-3.5l1.4-4.5l4.2-19.6l2.7-17.2l2.8-17.3l1.4-7.1l1.4-5.3l2.7-7l1.4-2.6l1.4-1.9l1.4-1.1l5.5-2.9l1.4-1.2l1.4-2.1l4.1-9.7l2.8-7.9l2.8-8.7l1.4-3.3l2.7-4.7l1.4-1.7l1.4-1.2l2.8-1.2l5.5-1.6l1.4-0.8l2.7-2.9l9.7-13.2l1.4-1.2l4.2-1.7l6.9-1.7l5.5-1.2l2.8-1.1l5.5-3.4l5.5-2.6l7-1.5l13.8-2.1l12.5-2.3l20.7-1.5l40.1-1.7l94.1-1.5l1039.1 0" fill="none" stroke="#edb120" stroke-width="3.7" stroke-dasharray="13.7 13.1" clip-path="url(#cm)"/>
<path d="M94.7 914l1.4 0l1.4-7.1l1.4-15.5l1.3-27.9l1.4-40l1.4-49.4l1.4-56.1l1.4-56.8l1.4-56.3l1.3-52.1l1.4-49.7l1.4-47.5l1.4-45.2l1.4-43.7l1.4-40l1.3-38.5l1.4-34.6l1.4-30.9l1.4-27.2l1.4-24.1l1.4-19.6l1.3-17.3l1.4-12.9l1.4-9l1.4-6.8l1.4-3l1.4-1.5l1.3 2.2l1.4 3.8l1.4 5.7l1.4 7.1l1.4 8.3l1.4 9.8l1.3 9.8l1.4 10.6l1.4 10.5l1.4 10.6l1.4 9.8l1.4 10l1.3 9.2l1.4 8.7l1.4 7l1.4 5.8l1.4 5.6l1.4 3.4l1.3 3.1l1.4 2.2l1.4 1l1.4 0l1.4-1.4l1.4-2.6l1.3-3l1.4-4.2l1.4-4.1l1.4-4.5l1.4-5.5l1.4-5.8l1.3-5.9l1.4-6.1l1.4-6.4l1.4-6.4l1.4-5.8l1.4-5.4l1.4-5.2l1.3-5.3l1.4-4.5l1.4-4.2l1.4-3.8l1.4-3.5l1.4-3.2l1.3-2.4l1.4-1.9l1.4-1.2l1.4-0.9l1.4-0.5l1.4 0.1l1.3 0.5l1.4 0.9l1.4 1.2l1.4 1.6l1.4 2.1l1.4 1.9l1.3 1.5l1.4 2.5l1.4 2l1.4 1.7l1.4 1.6l1.4 1.4l1.3 1.3l1.4 1.2l1.4 1.1l1.4 1l1.4 0.7l1.4 0.7l1.3 0.6l1.4 0.5l1.4 0.3l1.4 0.2l1.4-0.1l1.4-0.2l1.3-0.2l1.4-0.3l1.4-0.4l1.4-0.3l1.4-0.5l1.4-0.5l1.3-0.6l1.4-0.7l1.4-0.6l1.4-0.7l1.4-0.8l1.4-0.9l1.3-0.9l1.4-0.7l1.4-0.6l1.4-0.5l1.4-0.4l1.4-0.4l1.3-0.3l1.4-0.4l1.4-0.3l1.4-0.3l1.4-0.2l1.4-0.2l1.3-0.1l1.4 0l1.4 0.1l1.4 0.1l1.4 0.2l1.4 0.1l1.4 0.1l1.3 0.2l1.4 0.1l1.4 0.1l1.4 0.1l1.4 0.1l1.4 0.1l1.3 0.2l1.4 0.1l1.4 0.1l1.4 0.1l1.4 0.1l1.4 0.2l1.3 0.1l1.4 0.1l1.4 0.1l1.4 0.1l1.4 0.1l1.4 0.2l1.3 0.1l1.4 0.1l1.4 0.2l1.4 0.1l1.4 0.1l1.4 0.1l1.3 0.1l1.4 0.1l1.4 0l1.4 0.1l1.4 0l1.4 0l1.3 0l1.4 0l1.4 0l1.4 0l1.4 0l1.4 0l1.3 0l1.4 0l1.4 0l1.4 0l1.4 0l1.4 0l1.3 0l1.4 0l1.4 0l1.4 0l1.4 0l1.4 0l1.3 0l1.4 0l1.4 0l1.4 0l1.4 0l1.4 0l1.3 0l1.4 0l1.4 0l1.4 0l1.4 0l1.4 0l1.4 0l1.3 0l1.4 0l1.4 0l1.4 0l1.4 0l1.4 0l1.3 0l1.4 0l1.4 0l1.4 0l1.4 0l1.4 0l1.3 0l1.4 0l1.4 0l1.4 0l1.4 0l1.4 0l1.3 0l1.4 0l1.4 0l1.4 0l1.4 0l1.4 0l1.3 0l1.4 0l1.4 0l1.4 0l1.4 0l1.4 0l1.3 0l1.4 0l1.4 0l1.4 0l1.4 0l1.4 0l1.3 0l1.4 0l1.4 0l1.4 0l1.4 0l1.4 0l1.3 0l1.4 0l1.4 0l1.4 0l1.4 0l1.4 0l1.3 0l1.4 0l1.4 0l1.4 0l1.4 0l1.4 0l1.3 0l1.4 0l1.4 0l1.4 0l1.4 0l1.4 0l1.4 0l1.3 0l1.4 0l1.4 0l1.4 0l1.4 0l1.4 0l1.3 0l1.4 0l1.4 0l1.4 0l1.4 0l1.4 0l1.3 0l1.4 0l1.4 0l1.4 0l1.4 0l1.4 0l1.3 0l1.4 0l1.4 0l1.4 0l1.4 0l1.4 0l1.3 0l1.4 0l1.4 0l1.4 0l1.4 0l1.4 0l1.3 0l1.4 0l1.4 0l1.4 0l1.4 0l1.4 0l1.3 0l1.4 0l1.4 0l1.4 0l1.4 0l1.4 0l1.3 0l1.4 0l1.4 0l1.4 0l1.4 0l1.4 0l1.3 0l1.4 0l1.4 0l1.4 0l1.4 0l1.4 0l1.3 0l1.4 0l1.4 0l1.4 0l1.4 0l1.4 0l1.4 0l1.3 0l1.4 0l1.4 0l1.4 0l1.4 0l1.4 0l1.3 0l1.4 0l1.4 0l1.4 0l1.4 0l1.4 0l1.3 0l1.4 0l1.4 0l1.4 0l1.4 0l1.4 0l1.3 0l1.4 0l1.4 0l1.4 0l1.4 0l1.4 0l1.3 0l1.4 0l1.4 0l1.4 0l1.4 0l1.4 0l1.3 0l1.4 0l1.4 0l1.4 0l1.4 0l1.4 0l1.3 0l1.4 0l1.4 0l1.4 0l1.4 0l1.4 0l1.3 0l1.4 0l1.4 0l1.4 0l1.4 0l1.4 0l1.3 0l1.4 0l1.4 0l1.4 0l1.4 0l1.4 0l1.3 0l1.4 0l1.4 0l1.4 0l1.4 0l1.4 0l1.4 0l1.3 0l1.4 0l1.4 0l1.4 0l1.4 0l1.4 0l1.3 0l1.4 0l1.4 0l1.4 0l1.4 0l1.4 0l1.3 0l1.4 0l1.4 0l1.4 0l1.4 0l1.4 0l1.3 0l1.4 0l1.4 0l1.4 0l1.4 0l1.4 0l1.3 0l1.4 0l1.4 0l1.4 0l1.4 0l1.4 0l1.3 0l1.4 0l1.4 0l1.4 0l1.4 0l1.4 0l1.3 0l1.4 0l1.4 0l1.4 0l1.4 0l1.4 0l1.3 0l1.4 0l1.4 0l1.4 0l1.4 0l1.4 0l1.3 0l1.4 0l1.4 0l1.4 0l1.4 0l1.4 0l1.3 0l1.4 0l1.4 0l1.4 0l1.4 0l1.4 0l1.3 0l1.4 0l1.4 0l1.4 0l1.4 0l1.4 0l1.4 0l1.3 0l1.4 0l1.4 0l1.4 0l1.4 0l1.4 0l1.3 0l1.4 0l1.4 0l1.4 0l1.4 0l1.4 0l1.3 0l1.4 0l1.4 0l1.4 0l1.4 0l1.4 0l1.3 0l1.4 0l1.4 0l1.4 0l1.4 0l1.4 0l1.3 0l1.4 0l1.4 0l1.4 0l1.4 0l1.4 0l1.3 0l1.4 0l1.4 0l1.4 0l1.4 0l1.4 0l1.3 0l1.4 0l1.4 0l1.4 0l1.4 0l1.4 0l1.3 0l1.4 0l1.4 0l1.4 0l1.4 0l1.4 0l1.3 0l1.4 0l1.4 0l1.4 0l1.4 0l1.4 0l1.3 0l1.4 0l1.4 0l1.4 0l1.4 0l1.4 0l1.4 0l1.3 0l1.4 0l1.4 0l1.4 0l1.4 0l1.4 0l1.3 0l1.4 0l1.4 0l1.4 0l1.4 0l1.4 0l1.3 0l1.4 0l1.4 0l1.4 0l1.4 0l1.4 0l1.3 0l1.4 0l1.4 0l1.4 0l1.4 0l1.4 0l1.3 0l1.4 0l1.4 0l1.4 0l1.4 0l1.4 0l1.3 0l1.4 0l1.4 0l1.4 0l1.4 0l1.4 0l1.3 0l1.4 0l1.4 0l1.4 0l1.4 0l1.4 0l1.3 0l1.4 0l1.4 0l1.4 0l1.4 0l1.4 0l1.3 0l1.4 0l1.4 0l1.4 0l1.4 0l1.4 0l1.3 0l1.4 0l1.4 0l1.4 0l1.4 0l1.4 0l1.4 0l1.3 0l1.4 0l1.4 0l1.4 0l1.4 0l1.4 0l1.3 0l1.4 0l1.4 0l1.4 0l1.4 0l1.4 0l1.3 0l1.4 0l1.4 0l1.4 0l1.4 0l1.4 0l1.3 0l1.4 0l1.4 0l1.4 0l1.4 0l1.4 0l1.3 0l1.4 0l1.4 0l1.4 0l1.4 0l1.4 0l1.3 0l1.4 0l1.4 0l1.4 0l1.4 0l1.4 0l1.3 0l1.4 0l1.4 0l1.4 0l1.4 0l1.4 0l1.3 0l1.4 0l1.4 0l1.4 0l1.4 0l1.4 0l1.3 0l1.4 0l1.4 0l1.4 0l1.4 0l1.4 0l1.3 0l1.4 0l1.4 0l1.4 0l1.4 0l1.4 0l1.3 0l1.4 0l1.4 0l1.4 0l1.4 0l1.4 0l1.4 0l1.3 0l1.4 0l1.4 0l1.4 0l1.4 0l1.4 0l1.3 0l1.4 0l1.4 0l1.4 0l1.4 0l1.4 0l1.3 0l1.4 0l1.4 0l1.4 0l1.4 0l1.4 0l1.3 0l1.4 0l1.4 0l1.4 0l1.4 0l1.4 0l1.3 0l1.4 0l1.4 0l1.4 0l1.4 0l1.4 0l1.3 0l1.4 0l1.4 0l1.4 0l1.4 0l1.4 0l1.3 0l1.4 0l1.4 0l1.4 0l1.4 0l1.4 0l1.3 0l1.4 0l1.4 0l1.4 0l1.4 0l1.4 0l1.3 0l1.4 0l1.4 0l1.4 0l1.4 0l1.4 0l1.3 0l1.4 0l1.4 0l1.4 0l1.4 0l1.4 0l1.4 0l1.3 0l1.4 0l1.4 0l1.4 0l1.4 0l1.4 0l1.3 0l1.4 0l1.4 0l1.4 0l1.4 0l1.4 0l1.3 0l1.4 0l1.4 0l1.4 0l1.4 0l1.4 0l1.3 0l1.4 0l1.4 0l1.4 0l1.4 0l1.4 0l1.3 0l1.4 0l1.4 0l1.4 0l1.4 0l1.4 0l1.3 0l1.4 0l1.4 0l1.4 0l1.4 0l1.4 0l1.3 0l1.4 0l1.4 0l1.4 0l1.4 0l1.4 0l1.3 0l1.4 0l1.4 0l1.4 0l1.4 0l1.4 0l1.3 0l1.4 0l1.4 0l1.4 0l1.4 0l1.4 0l1.3 0l1.4 0l1.4 0l1.4 0l1.4 0l1.4 0l1.4 0l1.3 0l1.4 0l1.4 0l1.4 0l1.4 0l1.4 0l1.3 0l1.4 0l1.4 0l1.4 0l1.4 0l1.4 0l1.3 0l1.4 0l1.4 0l1.4 0l1.4 0l1.4 0l1.3 0l1.4 0l1.4 0l1.4 0l1.4 0l1.4 0l1.3 0l1.4 0l1.4 0l1.4 0l1.4 0l1.4 0l1.3 0l1.4 0l1.4 0l1.4 0l1.4 0l1.4 0l1.3 0l1.4 0l1.4 0l1.4 0l1.4 0l1.4 0l1.3 0l1.4 0l1.4 0l1.4 0l1.4 0l1.4 0l1.3 0l1.4 0l1.4 0l1.4 0l1.4 0l1.4 0l1.3 0l1.4 0l1.4 0l1.4 0l1.4 0l1.4 0l1.4 0l1.3 0l1.4 0l1.4 0l1.4 0l1.4 0l1.4 0l1.3 0l1.4 0l1.4 0l1.4 0l1.4 0l1.4 0l1.3 0l1.4 0l1.4 0l1.4 0l1.4 0l1.4 0l1.3 0l1.4 0l1.4 0l1.4 0l1.4 0l1.4 0l1.3 0l1.4 0l1.4 0l1.4 0l1.4 0l1.4 0l1.3 0l1.4 0l1.4 0l1.4 0l1.4 0l1.4 0l1.3 0l1.4 0l1.4 0l1.4 0l1.4 0l1.4 0l1.3 0l1.4 0l1.4 0l1.4 0l1.4 0l1.4 0l1.3 0l1.4 0l1.4 0l1.4 0l1.4 0l1.4 0l1.3 0l1.4 0l1.4 0l1.4 0l1.4 0l1.4 0l1.4 0l1.3 0l1.4 0l1.4 0l1.4 0l1.4 0l1.4 0l1.3 0l1.4 0l1.4 0l1.4 0l1.4 0l1.4 0l1.3 0l1.4 0l1.4 0l1.4 0l1.4 0l1.4 0l1.3 0l1.4 0l1.4 0l1.4 0l1.4 0l1.4 0l1.3 0l1.4 0l1.4 0l1.4 0l1.4 0l1.4 0l1.3 0l1.4 0l1.4 0l1.4 0l1.4 0l1.4 0l1.3 0l1.4 0l1.4 0l1.4 0l1.4 0l1.4 0l1.3 0l1.4 0l1.4 0l1.4 0l1.4 0l1.4 0l1.3 0l1.4 0l1.4 0l1.4 0l1.4 0l1.4 0l1.3 0l1.4 0l1.4 0l1.4 0l1.4 0l1.4 0l1.3 0l1.4 0l1.4 0l1.4 0l1.4 0l1.4 0l1.4 0l1.3 0l1.4 0l1.4 0l1.4 0l1.4 0l1.4 0l1.3 0l1.4 0l1.4 0l1.4 0l1.4 0l1.4 0l1.3 0l1.4 0l1.4 0l1.4 0l1.4 0l1.4 0l1.3 0l1.4 0l1.4 0l1.4 0l1.4 0l1.4 0l1.3 0l1.4 0l1.4 0l1.4 0l1.4 0l1.4 0l1.3 0l1.4 0l1.4 0l1.4 0l1.4 0l1.4 0l1.3 0l1.4 0l1.4 0l1.4 0l1.4 0l1.4 0l1.3 0l1.4 0l1.4 0l1.4 0l1.4 0l1.4 0l1.3 0l1.4 0l1.4 0l1.4 0l1.4 0l1.4 0l1.3 0l1.4 0l1.4 0l1.4 0" fill="none" stroke="none" marker-start="url(#mk)" marker-mid="url(#mk)" marker-end="url(#mk)"/>
<path d="M94.7 914l1.4-37.7l1.4-83.7l5.5-379l1.4-78.9l2.8-107.3l1.3-41.1l1.4-31.5l1.4-24.3l1.4-15.7l1.4-8.3l1.4-3.7l1.3 4l1.4 8l1.4 10.7l4.2 46.5l2.7 33.3l2.8 26.6l1.4 10.4l1.4 7.5l1.3 5.6l2.8 8.2l1.4 2.4l1.4 0.2l1.4-1.6l2.7-5.8l1.4-4.6l4.2-19.4l8.3-34.6l2.7-7.8l2.8-6.4l1.4-2.5l1.4-1.9l1.3-1.1l4.2-1.4l2.8-0.1l8.3 1.4l2.7-0.1l5.6-1.9l8.3-4.9l8.3-3.2l9.7-2.2l15.2-2.3l40.1-4l33.2-1.6l1173.3-0.1" fill="none" stroke="#77ac30" stroke-width="3.7" stroke-dasharray="13.7 3.2 6.7 3.3" clip-path="url(#cm)"/>
<path d="M94.7 914l1.4-11.3l1.4-36.2l6.9-448.4l2.8-143.2l1.3-58.7l1.4-45.1l2.8-62.6l1.4-20.3l1.4-13.3l1.3-6.7l1.4 0.7l2.8 12.6l1.4 7.7l1.4 11.1l4.1 69.5l4.2 56.8l1.3 13.3l2.8 19.7l1.4 7.1l1.4 4.3l1.4 3.1l1.3 0.4l1.4-2.2l1.4-3.3l1.4-4.7l2.8-14.1l4.1-26.9l2.8-21.3l1.4-8.8l2.7-12.1l2.8-8.7l4.1-9.2l1.4-1.8l1.4-0.5l2.8 0.8l2.7 1.6l7 7.3l2.7 3l1.4 1l2.8 1l2.8-0.5l4.1-1.7l13.8-7l7-2l8.3-1.5l17.9-1.3l41.6-1.1l77.4-0.4l1116.6 0" fill="none" stroke="#4dbeee" stroke-width="3.7" stroke-dasharray="13.7 3.2 6.7 3.3" clip-path="url(#cm)"/>
<text transform="translate(93.9 954.6) scale(0.905 1)" font-size="30.3" text-anchor="middle">0</text>
<text transform="translate(232.3 954.6) scale(0.905 1)" font-size="30.3" text-anchor="middle">10</text>
<text transform="translate(370.6 954.6) scale(0.905 1)" font-size="30.3" text-anchor="middle">20</text>
<text transform="translate(509 954.6) scale(0.905 1)" font-size="30.3" text-anchor="middle">30</text>
<text transform="translate(647.3 954.6) scale(0.905 1)" font-size="30.3" text-anchor="middle">40</text>
<text transform="translate(785.7 954.6) scale(0.905 1)" font-size="30.3" text-anchor="middle">50</text>
<text transform="translate(924.1 954.6) scale(0.905 1)" font-size="30.3" text-anchor="middle">60</text>
<text transform="translate(1062.4 954.6) scale(0.905 1)" font-size="30.3" text-anchor="middle">70</text>
<text transform="translate(1200.8 954.6) scale(0.905 1)" font-size="30.3" text-anchor="middle">80</text>
<text transform="translate(1339.1 954.6) scale(0.905 1)" font-size="30.3" text-anchor="middle">90</text>
<text transform="translate(1477.5 954.6) scale(0.905 1)" font-size="30.3" text-anchor="middle">100</text>
<text transform="translate(81.6 925.3) scale(0.915 1)" font-size="30.3" text-anchor="end">0</text>
<text transform="translate(81.6 774.5) scale(0.915 1)" font-size="30.3" text-anchor="end">0.2</text>
<text transform="translate(81.6 623.7) scale(0.915 1)" font-size="30.3" text-anchor="end">0.4</text>
<text transform="translate(81.6 472.9) scale(0.915 1)" font-size="30.3" text-anchor="end">0.6</text>
<text transform="translate(81.6 322.2) scale(0.915 1)" font-size="30.3" text-anchor="end">0.8</text>
<text transform="translate(81.6 171.4) scale(0.915 1)" font-size="30.3" text-anchor="end">1</text>
<text transform="translate(81.6 20.6) scale(0.915 1)" font-size="30.3" text-anchor="end">1.2</text>
<text class="se" x="785.5" y="1000" font-size="38.4" text-anchor="middle">Time (s)</text>
<text class="se" transform="translate(26.4 461.6) rotate(-90)" font-size="38.8" text-anchor="middle">Process Output</text>
<path d="M96.2 466.2H370.5V57.8H96.2Z" fill="none" stroke="#ff0000" stroke-width="3" stroke-dasharray="16.4 10.28" stroke-dashoffset="12.96"/>
<rect x="442.0" y="239.5" width="916.5" height="464.1" fill="#fff"/>
<path d="M519.5 239.5V703.6M610.9 239.5V703.6M702.3 239.5V703.6M793.7 239.5V703.6M885.1 239.5V703.6M976.5 239.5V703.6M1067.9 239.5V703.6M1159.3 239.5V703.6M1250.7 239.5V703.6M1342.1 239.5V703.6M442.0 617.9H1358.5M442.0 529.6H1358.5M442.0 441.3H1358.5M442.0 353H1358.5M442.0 264.7H1358.5" stroke="#dfdfdf" stroke-width="1.5" fill="none"/>
<path d="M442.0 239.5H1358.5V703.6H442.0ZM519.5 703.6v-9.2M519.5 239.5v9.2M610.9 703.6v-9.2M610.9 239.5v9.2M702.3 703.6v-9.2M702.3 239.5v9.2M793.7 703.6v-9.2M793.7 239.5v9.2M885.1 703.6v-9.2M885.1 239.5v9.2M976.5 703.6v-9.2M976.5 239.5v9.2M1067.9 703.6v-9.2M1067.9 239.5v9.2M1159.3 703.6v-9.2M1159.3 239.5v9.2M1250.7 703.6v-9.2M1250.7 239.5v9.2M1342.1 703.6v-9.2M1342.1 239.5v9.2M442.0 617.9h9.2M1358.5 617.9h-9.2M442.0 529.6h9.2M1358.5 529.6h-9.2M442.0 441.3h9.2M1358.5 441.3h-9.2M442.0 353h9.2M1358.5 353h-9.2M442.0 264.7h9.2M1358.5 264.7h-9.2" stroke="#262626" stroke-width="1.6" fill="none"/>
<path d="M432.7 353l936.8 0" fill="none" stroke="#0072bd" stroke-width="4.6" clip-path="url(#ci)"/>
<path d="M432.7 1209.5l4.5-70.9l13.8-291.1l4.5-87.5l9.2-160.4l4.5-62.6l4.6-46.9l4.6-39.2l4.5-34.5l4.6-29.3l4.6-26.6l4.5-15.9l4.6-10.5l4.6-5.4l4.6-3.3l4.5-0.1l4.6 5l4.6 7.4l9.1 21.3l13.7 29.3l9.2 19.2l4.5 8.8l4.6 7.3l4.6 6.3l4.5 5.4l4.6 3.4l4.6 1.9l4.5 1.5l4.6 0.8l4.6-0.1l4.6-1.7l4.5-2.8l4.6-3.1l4.6-4.7l13.7-17l9.1-12.6l4.6-5.8l4.6-5l9.1-8.4l4.6-3.6l4.5-3.2l4.6-2.5l13.7-5.9l9.2-3l4.5-1l9.2-1.1l27.4-1.6l64-3.4l63.9-2.1l91.4-1.2l415.9-0.1" fill="none" stroke="#d95319" stroke-width="3.7" clip-path="url(#ci)"/>
<path d="M432.7 1225.1l4.5-24.4l4.6-48.3l9.2-135.3l13.7-213.8l13.7-197.8l9.1-108.6l4.6-45.9l4.5-38.8l4.6-30.1l4.6-23.8l4.6-15l4.5-11.5l4.6-6.2l4.6-0.9l4.5 3.6l4.6 6.4l4.6 7.7l4.6 6.7l4.5 8.9l9.2 25.9l9.1 27.4l4.6 12.3l4.5 10.9l4.6 9.9l4.6 7.5l4.5 6.1l4.6 4.8l4.6 1.4l4.6-1l4.5-2.1l4.6-3l4.6-5.6l4.5-6.5l4.6-5.5l9.2-9.5l4.5-5.6l9.2-15.9l4.5-7.2l4.6-6.5l9.1-10.8l4.6-4.6l4.6-3.8l9.1-6.1l4.6-2.1l4.6-0.8l18.2-0.5l45.7-0.2l18.3-1l32-3.8l32-2.9l36.6-2.3l86.8-3l50.3-0.9l356.4 0" fill="none" stroke="#edb120" stroke-width="2.7" stroke-dasharray="16.7 10.1" clip-path="url(#ci)"/>
<path d="M473.8 670l4.6-64.5l4.5-55.6l4.6-53l4.6-45.9l4.5-38.8l4.6-30.1l4.6-23.8l4.6-15l4.5-11.5l4.6-6.2l4.6-0.9l4.5 3.6l4.6 6.4l4.6 7.7l4.6 6.7l4.5 8.9l4.6 12.5l4.6 13.4l4.5 13.5l4.6 13.9l4.6 12.3l4.5 10.9l4.6 9.9l4.6 7.5l4.5 6.1l4.6 4.8l4.6 1.4l4.6-1l4.5-2.1l4.6-3l4.6-5.6l4.5-6.5l4.6-5.5l4.6-4.7l4.6-4.8l4.5-5.6l4.6-7.7l4.6-8.2l4.5-7.2l4.6-6.5l4.6-5.6l4.5-5.2l4.6-4.6l4.6-3.8l4.5-3.1l4.6-3l4.6-2.1l4.6-0.8l4.5-0.2l4.6-0.2l4.6-0.1l4.5 0l4.6 0l4.6 0l4.6 0l4.5 0l4.6 0l4.6 0l4.5 0l4.6 0l4.6 0l4.5-0.2l4.6-0.2l4.6-0.2l4.5-0.3l4.6-0.3l4.6-0.5l4.6-0.6l4.5-0.7l4.6-0.5l4.6-0.5l4.5-0.5l4.6-0.5l4.6-0.4l4.6-0.5l4.5-0.5l4.6-0.4l4.6-0.4l4.5-0.4l4.6-0.3l4.6-0.3l4.5-0.4l4.6-0.3l4.6-0.3l4.5-0.2l4.6-0.3l4.6-0.2l4.6-0.3l4.5-0.2l4.6-0.2l4.6-0.1l4.5-0.2l4.6-0.2l4.6-0.2l4.6-0.1l4.5-0.2l4.6-0.2l4.6-0.1l4.5-0.2l4.6-0.2l4.6-0.1l4.5-0.2l4.6-0.1l4.6-0.2l4.5-0.1l4.6-0.1l4.6-0.1l4.6-0.2l4.5-0.1l4.6-0.1l4.6-0.1l4.5-0.1l4.6 0l4.6-0.1l4.6-0.1l4.5 0l4.6 0l4.6-0.1l4.5 0l4.6 0l4.6 0l4.5 0l4.6 0l4.6 0l4.6 0l4.5 0l4.6 0l4.6 0l4.5 0l4.6 0l4.6 0l4.5 0l4.6 0l4.6 0l4.6 0l4.5 0l4.6 0l4.6 0l4.5 0l4.6 0l4.6 0l4.5 0l4.6 0l4.6 0l4.5 0l4.6 0l4.6 0l4.6 0l4.5 0l4.6 0l4.6 0l4.5 0l4.6 0l4.6 0l4.6 0l4.5 0l4.6 0l4.6 0l4.5 0l4.6 0l4.6 0l4.5 0l4.6 0l4.6 0l4.5 0l4.6 0l4.6 0l4.6 0l4.5 0l4.6 0l4.6 0l4.5 0l4.6 0l4.6 0l4.6 0l4.5 0l4.6 0l4.6 0l4.5 0l4.6 0l4.6 0l4.5 0l4.6 0l4.6 0l4.5 0l4.6 0l4.6 0l4.6 0l4.5 0l4.6 0l4.6 0l4.5 0l4.6 0" fill="none" stroke="none" marker-start="url(#mc)" marker-mid="url(#mc)" marker-end="url(#mc)"/>
<path d="M432.7 1236l4.5-10.1l4.6-17.9l4.6-22.7l4.6-24.4l22.8-132l4.6-24.7l9.1-44.8l9.1-40.9l13.8-56.2l9.1-34.4l9.1-31.9l50.3-158.8l9.1-27.9l4.6-13.1l4.6-12l9.1-21.6l9.2-19.3l9.1-17.6l9.2-15.9l9.1-14.5l32-45.7l9.1-11.9l9.2-10.7l9.1-9.6l9.1-8.8l9.2-7.6l9.1-6.3l9.2-5.3l9.1-4.4l9.1-5.8l9.2-6.8l4.5-3.6l13.8-9.1l4.5-2.6l4.6-1.9l9.1-2.5l13.8-2.9l4.5-1.2l9.2-3.3l9.1-2.6l9.1-1.8l18.3-2.1l13.7-0.7l50.3-0.6l41.1 0.6l18.3 0.8l13.7 1.4l45.7 2.9l86.8 4.8l73.2 2.4l73.1 1.2l86.8 0.7" fill="none" stroke="#7e2f8e" stroke-width="3.7" stroke-dasharray="13.7 13.1" clip-path="url(#ci)"/>
<path d="M560.6 694.6l4.6-14.5l4.6-14.5l4.5-14.3l4.6-14.1l4.6-14.1l4.5-13.8l4.6-13.1l4.6-12l4.6-11.1l4.5-10.5l4.6-9.9l4.6-9.4l4.5-9l4.6-8.6l4.6-8.1l4.6-7.8l4.5-7.5l4.6-7l4.6-6.7l4.5-6.6l4.6-6.4l4.6-6.5l4.5-6.6l4.6-6.5l4.6-6.4l4.5-6.1l4.6-5.8l4.6-5.5l4.6-5.2l4.5-5l4.6-4.6l4.6-4.5l4.5-4.3l4.6-4l4.6-3.6l4.6-3.3l4.5-3l4.6-2.8l4.6-2.5l4.5-2.2l4.6-2.2l4.6-2.8l4.5-3l4.6-3.2l4.6-3.6l4.5-3.6l4.6-3.2l4.6-3.1l4.6-2.8l4.5-2.6l4.6-1.9l4.6-1.4l4.5-1.1l4.6-0.9l4.6-0.9l4.6-1.1l4.5-1.2l4.6-1.6l4.6-1.7l4.5-1.4l4.6-1.2l4.6-1l4.5-0.8l4.6-0.6l4.6-0.6l4.5-0.5l4.6-0.4l4.6-0.3l4.6-0.3l4.5-0.1l4.6-0.1l4.6-0.1l4.5-0.1l4.6 0l4.6-0.1l4.6 0l4.5-0.1l4.6 0l4.6 0l4.5 0l4.6-0.1l4.6 0.1l4.5 0l4.6 0l4.6 0.1l4.5 0l4.6 0.1l4.6 0.1l4.6 0.1l4.5 0.1l4.6 0.2l4.6 0.1l4.5 0.2l4.6 0.3l4.6 0.5l4.6 0.5l4.5 0.4l4.6 0.4l4.6 0.3l4.5 0.3l4.6 0.3l4.6 0.3l4.5 0.2l4.6 0.3l4.6 0.3l4.6 0.2l4.5 0.3l4.6 0.2l4.6 0.3l4.5 0.2l4.6 0.3l4.6 0.2l4.5 0.3l4.6 0.3l4.6 0.3l4.6 0.2l4.5 0.3l4.6 0.3l4.6 0.2l4.5 0.3l4.6 0.3l4.6 0.2l4.5 0.3l4.6 0.2l4.6 0.2l4.5 0.2l4.6 0.2l4.6 0.2l4.6 0.2l4.5 0.1l4.6 0.2l4.6 0.2l4.5 0.1l4.6 0.2l4.6 0.1l4.6 0.2l4.5 0.1l4.6 0.1l4.6 0.2l4.5 0.1l4.6 0.1l4.6 0.1l4.5 0.1l4.6 0.1l4.6 0.1l4.5 0.1l4.6 0.1l4.6 0.1l4.6 0.1l4.5 0.1l4.6 0l4.6 0.1l4.5 0.1l4.6 0l4.6 0.1l4.6 0l4.5 0.1l4.6 0l4.6 0.1l4.5 0l4.6 0l4.6 0.1l4.5 0l4.6 0.1l4.6 0l4.5 0l4.6 0.1l4.6 0l4.6 0l4.5 0.1l4.6 0l4.6 0.1l4.5 0l4.6 0" fill="none" stroke="none" marker-start="url(#md)" marker-mid="url(#md)" marker-end="url(#md)"/>
<path d="M432.7 1225.4l4.5-18.8l9.2-48.7l22.8-135.4l4.6-24.9l9.1-45.1l9.2-41.3l13.7-56.8l9.1-34.7l9.2-31.9l45.7-145.2l13.7-41.7l4.5-12.4l9.2-22.1l9.1-19.8l9.2-17.9l9.1-16.2l9.2-14.8l27.4-39.5l9.1-12.8l9.1-11.4l9.2-10.4l9.1-9.3l9.2-8.5l4.5-3.8l9.2-6.4l9.1-5.5l4.6-2.4l9.1-3.6l9.2-3.5l13.7-6.6l22.8-11.9l4.6-1.9l13.7-4.2l9.2-2l13.7-1.9l22.8-2.6l27.4-0.9l27.5 0.4l27.4 0.5l86.8-1.8l41.1 0.6l86.9 2.5l141.6 2l77.7 0.2" fill="none" stroke="#77ac30" stroke-width="3.7" stroke-dasharray="13.7 13.1" clip-path="url(#ci)"/>
<path d="M551.5 700.3l4.6-14.6l4.5-14.5l4.6-14.4l4.6-14.2l4.5-14.1l4.6-14.1l4.6-13.5l4.5-12.4l4.6-11.4l4.6-10.7l4.6-10.2l4.5-9.6l4.6-9.2l4.6-8.7l4.5-8.3l4.6-7.9l4.6-7.6l4.6-7.2l4.5-6.8l4.6-6.6l4.6-6.5l4.5-6.5l4.6-6.6l4.6-6.5l4.5-6.5l4.6-6.3l4.6-5.9l4.5-5.5l4.6-5.4l4.6-5l4.6-4.8l4.5-4.5l4.6-4.4l4.6-4.1l4.5-3.8l4.6-3.3l4.6-3.1l4.6-2.9l4.5-2.6l4.6-2.4l4.6-1.9l4.5-1.7l4.6-1.7l4.6-1.8l4.5-2l4.6-2.3l4.6-2.3l4.5-2.3l4.6-2.4l4.6-2.4l4.6-2.5l4.5-2.3l4.6-1.9l4.6-1.5l4.5-1.4l4.6-1.3l4.6-1.1l4.6-0.9l4.5-0.8l4.6-0.6l4.6-0.5l4.5-0.5l4.6-0.5l4.6-0.6l4.5-0.6l4.6-0.4l4.6-0.3l4.5-0.1l4.6-0.2l4.6-0.1l4.6-0.1l4.5-0.1l4.6 0l4.6 0l4.5 0.1l4.6 0.1l4.6 0.1l4.6 0.1l4.5 0.2l4.6 0.1l4.6 0.1l4.5 0l4.6 0.1l4.6 0l4.5-0.1l4.6-0.1l4.6-0.1l4.5-0.1l4.6-0.1l4.6-0.1l4.6-0.1l4.5-0.1l4.6-0.1l4.6-0.1l4.5-0.1l4.6-0.1l4.6-0.2l4.6-0.1l4.5-0.1l4.6-0.1l4.6 0l4.5-0.1l4.6 0l4.6 0l4.5 0l4.6 0.1l4.6 0l4.6 0.1l4.5 0.1l4.6 0.1l4.6 0.1l4.5 0.1l4.6 0.1l4.6 0.2l4.5 0.1l4.6 0.1l4.6 0.2l4.6 0.1l4.5 0.2l4.6 0.1l4.6 0.2l4.5 0.1l4.6 0.2l4.6 0.1l4.5 0.2l4.6 0.1l4.6 0.1l4.5 0.1l4.6 0.1l4.6 0.1l4.6 0.1l4.5 0.1l4.6 0l4.6 0.1l4.5 0.1l4.6 0.1l4.6 0l4.6 0.1l4.5 0.1l4.6 0.1l4.6 0l4.5 0.1l4.6 0.1l4.6 0l4.5 0.1l4.6 0.1l4.6 0.1l4.5 0l4.6 0.1l4.6 0.1l4.6 0l4.5 0.1l4.6 0l4.6 0.1l4.5 0.1l4.6 0l4.6 0.1l4.6 0l4.5 0.1l4.6 0l4.6 0l4.5 0.1l4.6 0l4.6 0l4.5 0.1l4.6 0l4.6 0l4.5 0.1l4.6 0l4.6 0l4.6 0l4.5 0l4.6 0l4.6 0l4.5 0l4.6 0" fill="none" stroke="none" marker-start="url(#me)" marker-mid="url(#me)" marker-end="url(#me)"/>
<path d="M432.7 1225.4l4.5-18.8l9.2-48.7l22.8-135.4l4.6-24.9l9.1-45.1l9.2-41.3l13.7-56.8l9.1-34.7l9.2-31.9l45.7-145.2l13.7-41.7l4.5-12.4l9.2-22.1l9.1-19.8l9.2-17.9l9.1-16.2l9.2-14.8l27.4-39.5l9.1-12.8l9.1-11.4l9.2-10.4l9.1-9.3l9.2-8.5l4.5-3.8l9.2-6.4l9.1-5.5l4.6-2.4l9.1-3.6l9.2-3.5l13.7-6.6l22.8-11.9l4.6-1.9l13.7-4.2l9.2-2l13.7-1.9l22.8-2.6l27.4-0.9l27.5 0.4l27.4 0.5l86.8-1.8l41.1 0.6l86.9 2.5l141.6 2l77.7 0.2" fill="none" stroke="#4dbeee" stroke-width="3.7" stroke-dasharray="13.7 13.1" clip-path="url(#ci)"/>
<path d="M551.5 700.3l4.6-14.6l4.5-14.5l4.6-14.4l4.6-14.2l4.5-14.1l4.6-14.1l4.6-13.5l4.5-12.4l4.6-11.4l4.6-10.7l4.6-10.2l4.5-9.6l4.6-9.2l4.6-8.7l4.5-8.3l4.6-7.9l4.6-7.6l4.6-7.2l4.5-6.8l4.6-6.6l4.6-6.5l4.5-6.5l4.6-6.6l4.6-6.5l4.5-6.5l4.6-6.3l4.6-5.9l4.5-5.5l4.6-5.4l4.6-5l4.6-4.8l4.5-4.5l4.6-4.4l4.6-4.1l4.5-3.8l4.6-3.3l4.6-3.1l4.6-2.9l4.5-2.6l4.6-2.4l4.6-1.9l4.5-1.7l4.6-1.7l4.6-1.8l4.5-2l4.6-2.3l4.6-2.3l4.5-2.3l4.6-2.4l4.6-2.4l4.6-2.5l4.5-2.3l4.6-1.9l4.6-1.5l4.5-1.4l4.6-1.3l4.6-1.1l4.6-0.9l4.5-0.8l4.6-0.6l4.6-0.5l4.5-0.5l4.6-0.5l4.6-0.6l4.5-0.6l4.6-0.4l4.6-0.3l4.5-0.1l4.6-0.2l4.6-0.1l4.6-0.1l4.5-0.1l4.6 0l4.6 0l4.5 0.1l4.6 0.1l4.6 0.1l4.6 0.1l4.5 0.2l4.6 0.1l4.6 0.1l4.5 0l4.6 0.1l4.6 0l4.5-0.1l4.6-0.1l4.6-0.1l4.5-0.1l4.6-0.1l4.6-0.1l4.6-0.1l4.5-0.1l4.6-0.1l4.6-0.1l4.5-0.1l4.6-0.1l4.6-0.2l4.6-0.1l4.5-0.1l4.6-0.1l4.6 0l4.5-0.1l4.6 0l4.6 0l4.5 0l4.6 0.1l4.6 0l4.6 0.1l4.5 0.1l4.6 0.1l4.6 0.1l4.5 0.1l4.6 0.1l4.6 0.2l4.5 0.1l4.6 0.1l4.6 0.2l4.6 0.1l4.5 0.2l4.6 0.1l4.6 0.2l4.5 0.1l4.6 0.2l4.6 0.1l4.5 0.2l4.6 0.1l4.6 0.1l4.5 0.1l4.6 0.1l4.6 0.1l4.6 0.1l4.5 0.1l4.6 0l4.6 0.1l4.5 0.1l4.6 0.1l4.6 0l4.6 0.1l4.5 0.1l4.6 0.1l4.6 0l4.5 0.1l4.6 0.1l4.6 0l4.5 0.1l4.6 0.1l4.6 0.1l4.5 0l4.6 0.1l4.6 0.1l4.6 0l4.5 0.1l4.6 0l4.6 0.1l4.5 0.1l4.6 0l4.6 0.1l4.6 0l4.5 0.1l4.6 0l4.6 0l4.5 0.1l4.6 0l4.6 0l4.5 0.1l4.6 0l4.6 0l4.5 0.1l4.6 0l4.6 0l4.6 0l4.5 0l4.6 0l4.6 0l4.5 0l4.6 0" fill="none" stroke="none" marker-start="url(#mf)" marker-mid="url(#mf)" marker-end="url(#mf)"/>
<path d="M432.7 1236l4.5 0l4.6-4.5l4.6-11.7l4.6-26l4.5-28.4l18.3-95.4l4.6-26.2l18.2-117.2l32-198.5l9.2-61.5l9.1-64.8l9.2-62l4.5-25.9l4.6-24.1l4.6-20.8l4.5-27.2l4.6-22.4l13.7-53.1l4.6-19.7l4.6-15.4l4.5-10.6l4.6-8l4.6-6.9l4.5-5l4.6-2.7l4.6-1.7l4.6 0l4.5 1.4l4.6 2.2l4.6 3.6l9.1 9.2l9.1 11l4.6 6.1l4.6 7l18.3 31.8l4.5 8.4l4.6 7.6l9.1 13.8l13.8 18.8l4.5 4.5l4.6 3.5l4.6 2.8l4.5 1.8l9.2 2.3l4.5 0.6l4.6 0l4.6-0.8l9.1-2.9l4.6-1.9l4.6-2.5l4.5-2.9l4.6-3.7l13.7-12.9l9.2-9.3l9.1-10.1l18.3-17.6l9.1-8.2l9.1-6.7l9.2-5.7l13.7-7.6l4.6-2.3l9.1-3.5l9.2-2.1l9.1-1.1l4.6-0.4l4.5 0.1l9.2 1.4l13.7 4.1l22.8 7.8l13.7 3.9l9.2 2.5l13.7 4.4l18.3 4.9l9.1 1.8l22.9 2.4l13.7 0.6l9.1-0.1l13.7-1.2l27.4-4l27.5-5.6l27.4-3.9l13.7-1.4l27.4-1.1l27.4-0.2l22.9 1.2l50.2 3.5l27.5 1.4l22.8 0.7" fill="none" stroke="#a2142f" stroke-width="3.7" stroke-dasharray="13.7 13.1" clip-path="url(#ci)"/>
<path d="M533.2 698.3l4.6-31.7l4.6-33.3l4.5-31.5l4.6-31.8l4.6-30.2l4.5-25.9l4.6-24.1l4.6-20.8l4.5-27.2l4.6-22.4l4.6-18.2l4.5-17.3l4.6-17.6l4.6-19.7l4.6-15.4l4.5-10.6l4.6-8l4.6-6.9l4.5-5l4.6-2.7l4.6-1.7l4.6 0l4.5 1.4l4.6 2.2l4.6 3.6l4.5 4.4l4.6 4.8l4.6 5.3l4.5 5.7l4.6 6.1l4.6 7l4.5 7.8l4.6 7.9l4.6 8l4.6 8.1l4.5 8.4l4.6 7.6l4.6 7.1l4.5 6.7l4.6 6.3l4.6 6.4l4.6 6.1l4.5 4.5l4.6 3.5l4.6 2.8l4.5 1.8l4.6 1.3l4.6 1l4.5 0.6l4.6 0l4.6-0.8l4.5-1.4l4.6-1.5l4.6-1.9l4.6-2.5l4.5-2.9l4.6-3.7l4.6-4.2l4.5-4.3l4.6-4.4l4.6-4.5l4.6-4.8l4.5-5.1l4.6-5l4.6-4.6l4.5-4.4l4.6-4.3l4.6-4.3l4.5-4.2l4.6-4l4.6-3.5l4.5-3.2l4.6-3l4.6-2.7l4.6-2.5l4.5-2.5l4.6-2.6l4.6-2.3l4.5-1.9l4.6-1.6l4.6-1.2l4.6-0.9l4.5-0.6l4.6-0.5l4.6-0.4l4.5 0.1l4.6 0.6l4.6 0.8l4.5 1.2l4.6 1.4l4.6 1.5l4.5 1.6l4.6 1.6l4.6 1.6l4.6 1.6l4.5 1.4l4.6 1.4l4.6 1.3l4.5 1.2l4.6 1.2l4.6 1.3l4.6 1.6l4.5 1.4l4.6 1.4l4.6 1.3l4.5 1.3l4.6 1.2l4.6 1.1l4.5 1l4.6 0.8l4.6 0.6l4.6 0.5l4.5 0.4l4.6 0.5l4.6 0.4l4.5 0.3l4.6 0.2l4.6 0.1l4.5 0.1l4.6-0.2l4.6-0.2l4.6-0.5l4.5-0.5l4.6-0.6l4.6-0.6l4.5-0.7l4.6-0.6l4.6-0.7l4.5-0.8l4.6-0.8l4.6-1l4.5-1l4.6-1l4.6-0.9l4.6-0.9l4.5-0.7l4.6-0.6l4.6-0.7l4.5-0.7l4.6-0.6l4.6-0.6l4.6-0.6l4.5-0.4l4.6-0.4l4.6-0.3l4.5-0.2l4.6-0.2l4.6-0.1l4.5-0.2l4.6-0.1l4.6-0.1l4.5-0.1l4.6 0l4.6-0.1l4.6 0l4.5 0.1l4.6 0.1l4.6 0.2l4.5 0.3l4.6 0.2l4.6 0.4l4.6 0.3l4.5 0.4l4.6 0.3l4.6 0.4l4.5 0.3l4.6 0.3l4.6 0.3l4.5 0.3l4.6 0.3l4.6 0.3l4.5 0.3l4.6 0.3l4.6 0.3l4.6 0.3l4.5 0.2l4.6 0.2l4.6 0.1l4.5 0.2l4.6 0.1" fill="none" stroke="none" marker-start="url(#mg)" marker-mid="url(#mg)" marker-end="url(#mg)"/>
<path d="M432.7 1229.8l4.5-15l4.6-20.3l4.6-31.8l4.6-37.1l4.5-41.5l9.2-94.5l9.1-89.1l4.6-39.8l4.5-30.9l4.6-23.8l4.6-14.1l4.5-7.1l4.6-3.5l9.2-1.8l4.5-2.2l4.6-4l4.6-8.8l4.5-11.5l9.2-26.5l9.1-23.2l4.6-22.1l4.6-24.4l4.5-19.7l4.6-22.7l9.1-32.7l4.6-13.8l4.6-7.9l4.5-2.5l4.6-1.5l4.6-0.8l9.1-0.6l4.6-1l4.6-3.2l4.5-5.6l4.6-6.9l9.2-16.6l4.5-9.7l9.2-21.4l4.5-8.9l4.6-7.8l4.6-5.6l4.5-4.3l4.6-3.5l4.6-2.8l4.5-2l4.6-1.2l13.7-2.4l4.6-1.1l4.6-1.7l4.5-2.8l4.6-3.5l9.2-8l4.5-4.5l9.2-10.3l4.5-4.6l4.6-3.6l4.6-2.8l4.5-2.4l4.6-1.8l4.6-1.2l9.1-1.3l13.7-1.4l4.6-0.7l4.6-1.1l4.5-1.6l22.9-10.8l9.1-4.6l4.6-1.8l4.6-1.2l13.7-1.9l22.8-2l18.3-1.4l9.2-1.5l13.7-3l18.2-3.3l13.7-1.4l59.5-3.3l36.5-2.5l50.3-1.4l141.7-2.4l127.9-0.8" fill="none" stroke="#0072bd" stroke-width="3.7" stroke-dasharray="13.7 13.1" clip-path="url(#ci)"/>
<path d="M546.9 703.3l4.6-22.1l4.6-24.4l4.5-19.7l4.6-22.7l4.6-16.1l4.5-16.6l4.6-13.8l4.6-7.9l4.5-2.5l4.6-1.5l4.6-0.8l4.6-0.4l4.5-0.2l4.6-1l4.6-3.2l4.5-5.6l4.6-6.9l4.6-8l4.6-8.6l4.5-9.7l4.6-10.9l4.6-10.5l4.5-8.9l4.6-7.8l4.6-5.6l4.5-4.3l4.6-3.5l4.6-2.8l4.5-2l4.6-1.2l4.6-0.9l4.6-0.7l4.5-0.8l4.6-1.1l4.6-1.7l4.5-2.8l4.6-3.5l4.6-3.9l4.6-4.1l4.5-4.5l4.6-5.1l4.6-5.2l4.5-4.6l4.6-3.6l4.6-2.8l4.5-2.4l4.6-1.8l4.6-1.2l4.5-0.8l4.6-0.5l4.6-0.4l4.6-0.5l4.5-0.5l4.6-0.7l4.6-1.1l4.5-1.6l4.6-2l4.6-2.2l4.6-2.2l4.5-2.1l4.6-2.3l4.6-2.4l4.5-2.2l4.6-1.8l4.6-1.2l4.5-0.8l4.6-0.6l4.6-0.5l4.5-0.5l4.6-0.4l4.6-0.4l4.6-0.4l4.5-0.3l4.6-0.3l4.6-0.3l4.5-0.4l4.6-0.4l4.6-0.6l4.6-0.9l4.5-1.1l4.6-1l4.6-0.9l4.5-0.9l4.6-0.8l4.6-0.8l4.5-0.8l4.6-0.5l4.6-0.5l4.5-0.4l4.6-0.3l4.6-0.3l4.6-0.2l4.5-0.3l4.6-0.2l4.6-0.2l4.5-0.2l4.6-0.2l4.6-0.2l4.6-0.3l4.5-0.3l4.6-0.3l4.6-0.3l4.5-0.3l4.6-0.3l4.6-0.4l4.5-0.3l4.6-0.3l4.6-0.3l4.6-0.3l4.5-0.3l4.6-0.2l4.6-0.1l4.5-0.2l4.6-0.1l4.6-0.2l4.5-0.1l4.6-0.1l4.6-0.1l4.6-0.1l4.5-0.1l4.6-0.1l4.6-0.1l4.5-0.1l4.6-0.1l4.6-0.1l4.5 0l4.6-0.1l4.6-0.1l4.5-0.1l4.6-0.1l4.6-0.1l4.6 0l4.5-0.1l4.6-0.1l4.6-0.1l4.5-0.1l4.6-0.1l4.6 0l4.6-0.1l4.5-0.1l4.6-0.1l4.6 0l4.5-0.1l4.6-0.1l4.6-0.1l4.5 0l4.6-0.1l4.6 0l4.5-0.1l4.6-0.1l4.6 0l4.6-0.1l4.5 0l4.6 0l4.6-0.1l4.5 0l4.6-0.1l4.6 0l4.6 0l4.5-0.1l4.6 0l4.6 0l4.5-0.1l4.6 0l4.6 0l4.5-0.1l4.6 0l4.6 0l4.5 0l4.6-0.1l4.6 0l4.6 0l4.5-0.1l4.6 0l4.6 0l4.5 0l4.6-0.1" fill="none" stroke="none" marker-start="url(#mh)" marker-mid="url(#mh)" marker-end="url(#mh)"/>
<path d="M432.7 1236l4.5-2.8l4.6-14.9l4.6-22.7l4.6-31.7l9.1-68.7l22.8-190.1l27.5-228.5l9.1-71.1l9.1-63.5l9.2-53l4.6-22.1l9.1-36.2l4.6-15.9l4.5-13.2l4.6-8.9l4.6-6.3l4.5-4.3l4.6-2.2l4.6 0.1l4.5 3l4.6 5.3l9.2 14.5l9.1 14.7l13.7 20.2l9.2 12.7l4.5 5.6l9.2 9.2l4.5 4l4.6 3l9.1 3.5l4.6 1.3l4.6 0.9l4.5 0.5l4.6-0.2l9.2-1.4l4.5-1.1l4.6-1.5l4.6-2.4l4.5-3l4.6-3.9l4.6-5.7l9.1-13.1l13.7-18.8l4.6-5.9l9.1-9.7l4.6-5.2l4.6-6.8l4.5-7.9l4.6-6.6l4.6-5.9l4.6-5.5l9.1-9.9l4.6-4.6l4.5-2.8l9.2-2.1l4.6-0.6l4.5-0.1l9.2 0.6l18.2 2.5l22.9 4.9l22.8 5.4l18.3 3.6l13.7 1.4l13.7 0.6l9.2-0.5l22.8-3.1l36.6-8l18.3-3.9l22.8-2.9l13.7-1.1l36.6-1l41.1 0.1l68.6 0.7l159.9 0" fill="none" stroke="#d95319" stroke-width="3.7" stroke-dasharray="13.7 13.1" clip-path="url(#ci)"/>
<path d="M510.4 676.6l4.5-35.7l4.6-35.4l4.6-32.6l4.5-30.9l4.6-27l4.6-26l4.6-22.1l4.5-18.5l4.6-17.7l4.6-15.9l4.5-13.2l4.6-8.9l4.6-6.3l4.5-4.3l4.6-2.2l4.6 0.1l4.5 3l4.6 5.3l4.6 7.1l4.6 7.4l4.5 7.5l4.6 7.2l4.6 6.9l4.5 6.8l4.6 6.5l4.6 6.4l4.6 6.3l4.5 5.6l4.6 4.8l4.6 4.4l4.5 4l4.6 3l4.6 1.9l4.5 1.6l4.6 1.3l4.6 0.9l4.5 0.5l4.6-0.2l4.6-0.5l4.6-0.9l4.5-1.1l4.6-1.5l4.6-2.4l4.5-3l4.6-3.9l4.6-5.7l4.6-6.6l4.5-6.5l4.6-6.2l4.6-6.4l4.5-6.2l4.6-5.9l4.6-5l4.5-4.7l4.6-5.2l4.6-6.8l4.5-7.9l4.6-6.6l4.6-5.9l4.6-5.5l4.5-4.9l4.6-5l4.6-4.6l4.5-2.8l4.6-1.2l4.6-0.9l4.6-0.6l4.5-0.1l4.6 0.2l4.6 0.4l4.5 0.6l4.6 0.6l4.6 0.6l4.5 0.7l4.6 0.8l4.6 1l4.5 1l4.6 1l4.6 1.1l4.6 1.1l4.5 1.1l4.6 1.2l4.6 1l4.5 1l4.6 1l4.6 0.9l4.6 0.9l4.5 0.8l4.6 0.6l4.6 0.4l4.5 0.4l4.6 0.3l4.6 0.2l4.5 0.1l4.6-0.1l4.6-0.4l4.5-0.5l4.6-0.6l4.6-0.7l4.6-0.6l4.5-0.7l4.6-0.9l4.6-1l4.5-1l4.6-1.1l4.6-1l4.6-1l4.5-1l4.6-1l4.6-1.1l4.5-1l4.6-0.9l4.6-0.9l4.5-0.7l4.6-0.6l4.6-0.5l4.6-0.6l4.5-0.5l4.6-0.4l4.6-0.4l4.5-0.3l4.6-0.2l4.6-0.1l4.5-0.2l4.6-0.1l4.6-0.1l4.6-0.1l4.5-0.1l4.6-0.1l4.6 0l4.5-0.1l4.6 0l4.6 0l4.5 0l4.6 0.1l4.6 0l4.5 0.1l4.6 0l4.6 0.1l4.6 0l4.5 0.1l4.6 0.1l4.6 0l4.5 0.1l4.6 0.1l4.6 0l4.6 0.1l4.5 0l4.6 0l4.6 0.1l4.5 0l4.6 0l4.6 0l4.5 0l4.6 0l4.6 0l4.5 0l4.6 0l4.6 0l4.6 0l4.5 0l4.6 0l4.6 0l4.5 0l4.6 0l4.6 0l4.6 0l4.5 0l4.6 0l4.6 0l4.5 0l4.6 0l4.6 0l4.5 0l4.6 0l4.6 0l4.5 0l4.6 0l4.6 0l4.6 0l4.5 0l4.6 0l4.6 0l4.5 0l4.6 0" fill="none" stroke="none" marker-start="url(#mi)" marker-mid="url(#mi)" marker-end="url(#mi)"/>
<path d="M432.7 1231.6l4.5-13.3l4.6-20.3l4.6-30.9l4.6-37.1l4.5-41.5l9.2-94.4l9.1-89.2l4.6-39.8l4.5-31.7l4.6-23.9l4.6-15l4.5-7.9l4.6-3.6l9.2-2.6l4.5-3.3l4.6-5.6l4.6-10.6l4.5-12.3l9.2-28.3l4.6-11.8l4.5-15.2l4.6-20.5l9.1-45l4.6-18.8l4.6-15.5l4.5-10.8l4.6-8.6l4.6-5.1l4.5-2.5l9.2-3.3l9.1-2.7l4.6-2.2l4.6-4.2l4.5-5.3l4.6-7l4.6-7.6l4.6-8.4l4.5-9.1l9.2-21.9l4.5-9.3l4.6-8.4l4.6-6.1l4.5-4.5l4.6-3.8l4.6-3l4.5-2.2l4.6-1.4l18.3-3.3l4.6-1.4l4.5-2.5l4.6-3.3l13.7-12.2l13.7-15.3l4.6-3.8l9.1-5.5l4.6-2.1l4.6-1.3l9.1-1.4l18.3-1.9l4.6-1l4.5-1.4l9.2-4.2l13.7-6.5l9.1-4.8l4.6-1.9l4.6-1.4l13.7-2l22.8-2l18.3-1.4l4.6-0.5l9.1-1.9l13.7-2.9l13.7-2.4l13.7-1.5l36.6-2l32-2l32-2.1l59.4-1.5l132.5-2.1l123.4-0.9" fill="none" stroke="#edb120" stroke-width="3.7" stroke-dasharray="13.7 13.1" clip-path="url(#ci)"/>
<path d="M482.9 699.1l4.6-52.9l4.6-51.3l4.5-46.8l4.6-45l4.6-40.6l4.6-36.2l4.5-31.8l4.6-28.3l4.6-22.9l4.5-20.3l4.6-15l4.6-10.6l4.6-8l4.5-3.5l4.6-1.8l4.6 2.7l4.5 4.4l4.6 6.6l4.6 8.4l4.5 9.7l4.6 11.5l4.6 11.5l4.5 12.3l4.6 12.4l4.6 12.4l4.6 11.4l4.5 11.8l4.6 10.8l4.6 10.1l4.5 8.2l4.6 6.8l4.6 6.6l4.6 4l4.5 3.5l4.6 2.7l4.6 1.1l4.5 0l4.6-1.6l4.6-3l4.5-3.6l4.6-4.8l4.6-4.9l4.5-5.3l4.6-6.4l4.6-6.8l4.6-6.9l4.5-7.1l4.6-7.6l4.6-7.4l4.5-6.8l4.6-6.3l4.6-6.1l4.6-6.3l4.5-5.2l4.6-4.9l4.6-4.5l4.5-4.1l4.6-3.7l4.6-2.9l4.5-2.2l4.6-1.4l4.6-1l4.5-0.6l4.6 0.1l4.6 0.5l4.6 1.1l4.5 1.5l4.6 1.9l4.6 2.4l4.5 2.2l4.6 1.8l4.6 2.8l4.6 2.4l4.5 2.1l4.6 1.8l4.6 1.6l4.5 1.5l4.6 1.5l4.6 1.3l4.5 1.1l4.6 0.9l4.6 0.7l4.5 0.7l4.6 0.6l4.6 0.5l4.6 0.1l4.5-0.1l4.6-0.2l4.6-0.3l4.5-0.3l4.6-0.4l4.6-0.4l4.6-0.6l4.5-0.6l4.6-0.7l4.6-0.8l4.5-0.8l4.6-0.8l4.6-0.9l4.5-1l4.6-1l4.6-0.9l4.5-0.7l4.6-0.6l4.6-0.5l4.6-0.4l4.5-0.4l4.6-0.4l4.6-0.3l4.5-0.4l4.6-0.3l4.6-0.2l4.6-0.1l4.5 0l4.6 0.1l4.6 0.1l4.5 0.2l4.6 0.2l4.6 0.1l4.5 0.2l4.6 0.1l4.6 0.1l4.6 0.2l4.5 0.1l4.6 0.1l4.6 0.2l4.5 0.1l4.6 0.2l4.6 0.1l4.5 0.1l4.6 0.2l4.6 0.1l4.6 0.1l4.5 0.2l4.6 0.1l4.6 0.2l4.5 0.1l4.6 0.2l4.6 0.1l4.5 0.2l4.6 0.1l4.6 0.2l4.5 0.1l4.6 0.1l4.6 0.1l4.6 0l4.5 0.1l4.6 0l4.6 0l4.5 0l4.6 0l4.6 0l4.6 0l4.5 0l4.6 0l4.6 0l4.5 0l4.6 0l4.6 0l4.5 0l4.6 0l4.6 0l4.5 0l4.6 0l4.6 0l4.6 0l4.5 0l4.6 0l4.6 0l4.5 0l4.6 0l4.6 0l4.6 0l4.5 0l4.6 0l4.6 0l4.5 0l4.6 0l4.6 0l4.5 0l4.6 0l4.6 0l4.5 0l4.6 0l4.6 0l4.6 0l4.5 0l4.6 0l4.6 0l4.5 0l4.6 0" fill="none" stroke="none" marker-start="url(#mk)" marker-mid="url(#mk)" marker-end="url(#mk)"/>
<path d="M432.7 1191.8l4.5-98l4.6-122.7l9.2-219l4.5-102.2l4.6-92.4l4.6-68.8l4.5-56.9l4.6-48.1l4.6-36.9l4.5-28.4l4.6-18.4l4.6-9.8l4.5-4.3l4.6 4.7l4.6 9.4l4.6 12.5l4.5 16.6l9.2 37.8l4.5 21.1l4.6 18l4.6 16.1l4.6 15.1l4.5 12.1l4.6 8.8l4.6 6.5l4.5 5.1l4.6 4.6l4.6 2.8l4.5 0.1l4.6-1.8l4.6-3.1l4.5-3.6l4.6-5.4l9.2-15.7l13.7-20.7l18.3-26.9l4.5-5l9.2-8.1l4.5-3.5l4.6-3l4.6-2.2l4.5-1.3l13.7-1.6l9.2-0.2l27.4 1.7l9.2-0.2l18.2-2.1l27.4-5.8l22.9-3.2l22.9-2.2l50.2-3l141.7-5.2l105.1-1.8l91.4-0.3l164.5 0" fill="none" stroke="#77ac30" stroke-width="3.7" stroke-dasharray="13.7 3.2 6.7 3.3" clip-path="url(#ci)"/>
<path d="M432.7 1222.8l4.5-42.4l18.3-428.3l4.6-96.9l4.6-89l4.5-78.7l4.6-68.8l4.6-52.8l4.5-40.2l4.6-33.1l4.6-23.8l4.5-15.6l4.6-7.8l4.6 0.8l9.1 14.7l4.6 9.1l4.6 12.9l4.5 25.5l4.6 31.1l4.6 24.8l4.6 21.3l4.5 24.5l4.6 20.8l4.6 15.6l4.5 12.4l4.6 10.7l4.6 8.3l4.5 5l4.6 3.6l4.6 0.4l4.5-2.4l4.6-3.9l4.6-5.5l4.6-7.9l4.5-8.7l4.6-9.7l9.1-21.7l9.2-25l4.6-10.4l4.5-7.6l4.6-6.5l4.6-5.6l4.5-4.5l9.2-7.7l4.5-3.1l4.6-2.1l4.6-0.6l4.5 0.3l9.2 1.5l4.6 0.9l9.1 3.3l22.9 8.8l4.5 1.2l9.2 1.2l4.5-0.1l13.7-1.7l50.3-9l18.3-2l27.4-1.9l54.9-1.5l123.3-1.4l228.5-0.6l109.7 0" fill="none" stroke="#4dbeee" stroke-width="3.7" stroke-dasharray="13.7 3.2 6.7 3.3" clip-path="url(#ci)"/>
<text transform="translate(518.7 744.4) scale(0.905 1)" font-size="30.3" text-anchor="middle">2</text>
<text transform="translate(610.1 744.4) scale(0.905 1)" font-size="30.3" text-anchor="middle">4</text>
<text transform="translate(701.5 744.4) scale(0.905 1)" font-size="30.3" text-anchor="middle">6</text>
<text transform="translate(792.9 744.4) scale(0.905 1)" font-size="30.3" text-anchor="middle">8</text>
<text transform="translate(884.3 744.4) scale(0.905 1)" font-size="30.3" text-anchor="middle">10</text>
<text transform="translate(975.7 744.4) scale(0.905 1)" font-size="30.3" text-anchor="middle">12</text>
<text transform="translate(1067.1 744.4) scale(0.905 1)" font-size="30.3" text-anchor="middle">14</text>
<text transform="translate(1158.5 744.4) scale(0.905 1)" font-size="30.3" text-anchor="middle">16</text>
<text transform="translate(1249.9 744.4) scale(0.905 1)" font-size="30.3" text-anchor="middle">18</text>
<text transform="translate(1341.3 744.4) scale(0.905 1)" font-size="30.3" text-anchor="middle">20</text>
<text transform="translate(429.1 629.2) scale(0.915 1)" font-size="30.3" text-anchor="end">0.7</text>
<text transform="translate(429.1 540.9) scale(0.915 1)" font-size="30.3" text-anchor="end">0.8</text>
<text transform="translate(429.1 452.6) scale(0.915 1)" font-size="30.3" text-anchor="end">0.9</text>
<text transform="translate(429.1 364.3) scale(0.915 1)" font-size="30.3" text-anchor="end">1</text>
<text transform="translate(429.1 276) scale(0.915 1)" font-size="30.3" text-anchor="end">1.1</text>
<rect x="518.3" y="765.8" width="956.3" height="145.20000000000005" fill="#fff" stroke="#262626" stroke-width="1.6"/>
<path d="M531.3 786.3H615.3" stroke="#0072bd" stroke-width="4.6" fill="none"/>
<text class="lg" transform="translate(621 796.6) scale(0.93 1)"><tspan>Step Input</tspan></text>
<path d="M753.3 786.3H837.3" stroke="#d95319" stroke-width="3.7" fill="none"/>
<text class="lg" transform="translate(843.3 796.6) scale(0.93 1)"><tspan>PID</tspan></text>
<path d="M968.4 786.3H1052.4" stroke="#edb120" stroke-width="2.7" fill="none" stroke-dasharray="16.7 10.1"/>
<g transform="translate(1010.4 786.3)"><circle cx="0" cy="0" r="8.1" fill="none" stroke="#edb120" stroke-width="3.4" stroke-miterlimit="10"/></g>
<text class="lg" transform="translate(1058.7 796.6) scale(0.93 1)"><tspan>PI-PD1</tspan></text>
<path d="M1170.4 786.3H1254.4" stroke="#7e2f8e" stroke-width="3.7" fill="none" stroke-dasharray="13.7 13.1"/>
<g transform="translate(1212.4 786.3)"><path d="M-6 -6L6 6M-6 6L6 -6" fill="none" stroke="#7e2f8e" stroke-width="3.7" stroke-miterlimit="10"/></g>
<text class="lg" transform="translate(1260.7 796.6) scale(0.93 1)"><tspan>PI-PD2</tspan></text>
<path d="M531.3 820.9H615.3" stroke="#77ac30" stroke-width="3.7" fill="none" stroke-dasharray="13.7 13.1"/>
<g transform="translate(573.3 820.9)"><path d="M-8.3 0H8.3M0 -8.3V8.3M-5.9 -5.9L5.9 5.9M-5.9 5.9L5.9 -5.9" fill="none" stroke="#77ac30" stroke-width="3.7" stroke-miterlimit="10"/></g>
<text class="lg" transform="translate(621 831.2) scale(0.93 1)"><tspan>PI</tspan><tspan class="sup" dx="1.8" dy="-12">α</tspan><tspan dx="1.2" dy="12">-PD1</tspan></text>
<path d="M753.3 820.9H837.3" stroke="#4dbeee" stroke-width="3.7" fill="none" stroke-dasharray="13.7 13.1"/>
<g transform="translate(795.3 820.9)"><path d="M-8.3 0H8.3M0 -8.3V8.3M-5.9 -5.9L5.9 5.9M-5.9 5.9L5.9 -5.9" fill="none" stroke="#4dbeee" stroke-width="3.7" stroke-miterlimit="10"/></g>
<text class="lg" transform="translate(843.3 831.2) scale(0.93 1)"><tspan>PI</tspan><tspan class="sup" dx="1.8" dy="-12">α</tspan><tspan dx="1.2" dy="12">-PD2</tspan></text>
<path d="M968.4 820.9H1052.4" stroke="#a2142f" stroke-width="3.7" fill="none" stroke-dasharray="13.7 13.1"/>
<g transform="translate(1010.4 820.9)"><path d="M-11.1 0L6 -9.45L6 9.45Z" fill="none" stroke="#a2142f" stroke-width="3.7" stroke-miterlimit="10"/></g>
<text class="lg" transform="translate(1058.7 831.2) scale(0.93 1)"><tspan>PI-PD</tspan><tspan class="sup" dx="1.8" dy="-12">β</tspan><tspan dx="1.2" dy="12">1</tspan></text>
<path d="M1170.4 820.9H1254.4" stroke="#0072bd" stroke-width="3.7" fill="none" stroke-dasharray="13.7 13.1"/>
<g transform="translate(1212.4 820.9)"><path d="M-11.1 0L6 -9.45L6 9.45Z" fill="none" stroke="#0072bd" stroke-width="3.7" stroke-miterlimit="10"/></g>
<text class="lg" transform="translate(1260.7 831.2) scale(0.93 1)"><tspan>PI-PD</tspan><tspan class="sup" dx="1.8" dy="-12">β</tspan><tspan dx="1.2" dy="12">2</tspan></text>
<path d="M531.3 855.4H615.3" stroke="#d95319" stroke-width="3.7" fill="none" stroke-dasharray="13.7 13.1"/>
<g transform="translate(573.3 855.4)"><rect x="-6.3" y="-6.3" width="12.6" height="12.6" fill="none" stroke="#d95319" stroke-width="3.7" stroke-miterlimit="10"/></g>
<text class="lg" transform="translate(621 865.7) scale(0.93 1)"><tspan>PI</tspan><tspan class="sup" dx="1.8" dy="-12">α</tspan><tspan dx="1.2" dy="12">-PD</tspan><tspan class="sup" dx="1.8" dy="-12">β</tspan><tspan dx="1.2" dy="12">1</tspan></text>
<path d="M753.3 855.4H837.3" stroke="#edb120" stroke-width="3.7" fill="none" stroke-dasharray="13.7 13.1"/>
<text class="lg" transform="translate(843.3 865.7) scale(0.93 1)"><tspan>PI</tspan><tspan class="sup" dx="1.8" dy="-12">α</tspan><tspan dx="1.2" dy="12">-PD</tspan><tspan class="sup" dx="1.8" dy="-12">β</tspan><tspan dx="1.2" dy="12">2</tspan></text>
<g transform="translate(1010.4 855.4)"><circle cx="0" cy="0" r="2.85" fill="#7e2f8e"/></g>
<text class="lg" transform="translate(1058.7 865.7) scale(0.93 1)"><tspan>PI</tspan><tspan class="sup" dx="1.8" dy="-12">α</tspan><tspan dx="1.2" dy="12">D</tspan><tspan class="sup" dx="1.8" dy="-12">β</tspan></text>
<path d="M1170.4 855.4H1254.4" stroke="#77ac30" stroke-width="3.7" fill="none" stroke-dasharray="13.7 3.2 6.7 3.3"/>
<text class="lg" transform="translate(1260.7 865.7) scale(0.93 1)"><tspan>PIDD</tspan></text>
<path d="M531.3 889.8H615.3" stroke="#4dbeee" stroke-width="3.7" fill="none" stroke-dasharray="13.7 3.2 6.7 3.3"/>
<text class="lg" transform="translate(621 900.1) scale(0.93 1)"><tspan>PIDD</tspan><tspan class="sup" dx="1.8" dy="-12">β</tspan></text>
<path d="M371.7 173.9L430 229.5" stroke="#000" stroke-width="1.7" fill="none"/><path d="M441.9 240.4L414.1 229.5L428.5 228.5L429.2 214.1Z" fill="#000"/>
</svg></body></html>
